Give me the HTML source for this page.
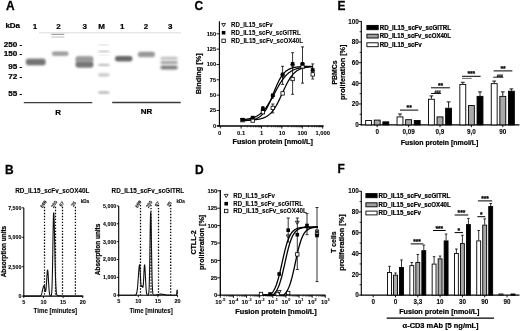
<!DOCTYPE html>
<html><head><meta charset="utf-8"><style>
html,body{margin:0;padding:0;background:#fff;width:520px;height:331px;overflow:hidden}
svg{display:block}
text{font-family:'Liberation Sans', Arial, sans-serif;font-weight:bold;stroke:#000;stroke-width:0.2px}
</style></head><body>
<svg width="520" height="331" viewBox="0 0 520 331">
<rect width="520" height="331" fill="#fff"/>
<text x="5.9" y="9.8" font-size="13.0" textLength="8.64" lengthAdjust="spacingAndGlyphs" fill="#000" style="stroke:#000;stroke-width:0.3px">A</text>
<text x="5.0" y="174.4" font-size="13.0" textLength="8.64" lengthAdjust="spacingAndGlyphs" fill="#000" style="stroke:#000;stroke-width:0.3px">B</text>
<text x="194.4" y="9.9" font-size="13.0" textLength="8.64" lengthAdjust="spacingAndGlyphs" fill="#000" style="stroke:#000;stroke-width:0.3px">C</text>
<text x="195.0" y="174.0" font-size="13.0" textLength="8.64" lengthAdjust="spacingAndGlyphs" fill="#000" style="stroke:#000;stroke-width:0.3px">D</text>
<text x="337.6" y="9.9" font-size="13.0" textLength="7.98" lengthAdjust="spacingAndGlyphs" fill="#000" style="stroke:#000;stroke-width:0.3px">E</text>
<text x="337.6" y="173.2" font-size="13.0" textLength="7.31" lengthAdjust="spacingAndGlyphs" fill="#000" style="stroke:#000;stroke-width:0.3px">F</text>
<defs><filter id="bl" x="-20%" y="-50%" width="140%" height="200%"><feGaussianBlur stdDeviation="1.0"/></filter><filter id="bl2" x="-20%" y="-50%" width="140%" height="200%"><feGaussianBlur stdDeviation="0.6"/></filter></defs>
<rect x="39.00" y="32.20" width="142.00" height="1.20" fill="#e2e2e2" filter="url(#bl2)"/>
<text x="5.4" y="27.8" font-size="8.0" fill="#000" style="stroke:#000;stroke-width:0.22px">kDa</text>
<text x="35" y="28.9" font-size="8.0" text-anchor="middle" fill="#000" style="stroke:#000;stroke-width:0.22px">1</text>
<text x="58.6" y="28.9" font-size="8.0" text-anchor="middle" fill="#000" style="stroke:#000;stroke-width:0.22px">2</text>
<text x="84.8" y="28.9" font-size="8.0" text-anchor="middle" fill="#000" style="stroke:#000;stroke-width:0.22px">3</text>
<text x="101.5" y="28.9" font-size="8.0" text-anchor="middle" fill="#000" style="stroke:#000;stroke-width:0.22px">M</text>
<text x="122.2" y="28.9" font-size="8.0" text-anchor="middle" fill="#000" style="stroke:#000;stroke-width:0.22px">1</text>
<text x="146" y="28.9" font-size="8.0" text-anchor="middle" fill="#000" style="stroke:#000;stroke-width:0.22px">2</text>
<text x="170.2" y="28.9" font-size="8.0" text-anchor="middle" fill="#000" style="stroke:#000;stroke-width:0.22px">3</text>
<text x="22.2" y="46.699999999999996" font-size="8.1" text-anchor="end" fill="#000" style="stroke:#000;stroke-width:0.22px">250 -</text>
<text x="22.2" y="56.199999999999996" font-size="8.1" text-anchor="end" fill="#000" style="stroke:#000;stroke-width:0.22px">150 -</text>
<text x="22.2" y="68.8" font-size="8.1" text-anchor="end" fill="#000" style="stroke:#000;stroke-width:0.22px">95 -</text>
<text x="22.2" y="79.3" font-size="8.1" text-anchor="end" fill="#000" style="stroke:#000;stroke-width:0.22px">72 -</text>
<text x="22.2" y="96.2" font-size="8.1" text-anchor="end" fill="#000" style="stroke:#000;stroke-width:0.22px">55 -</text>
<rect x="26.0" y="58.6" width="19.5" height="6.6" rx="2" fill="#9a9a9a" opacity="1" filter="url(#bl)"/>
<rect x="26.5" y="59.8" width="18.5" height="4.6" rx="2" fill="#707070" opacity="1" filter="url(#bl)"/>
<rect x="51.3" y="33.8" width="13" height="1.1" fill="#9a9a9a" filter="url(#bl2)"/>
<rect x="51.3" y="36.6" width="13" height="0.9" fill="#b8b8b8" filter="url(#bl2)"/>
<rect x="52.0" y="51.6" width="16.5" height="4.2" rx="2" fill="#b0b0b0" opacity="1" filter="url(#bl)"/>
<rect x="52.5" y="52.6" width="15.5" height="2.4" rx="2" fill="#9a9a9a" opacity="1" filter="url(#bl)"/>
<rect x="75.8" y="56.2" width="17.2" height="11.0" rx="2" fill="#a8a8a8" opacity="1" filter="url(#bl)"/>
<rect x="76.0" y="57.2" width="17" height="4.0" rx="2" fill="#989898" opacity="1" filter="url(#bl)"/>
<rect x="76.0" y="62.0" width="17" height="5.2" rx="2" fill="#747474" opacity="1" filter="url(#bl)"/>
<rect x="98.0" y="44.5" width="11.6" height="1.0" rx="2" fill="#c4c4c4" opacity="1" filter="url(#bl)"/>
<rect x="98.0" y="50.8" width="11.6" height="1.4" rx="2" fill="#b0b0b0" opacity="1" filter="url(#bl)"/>
<rect x="98.0" y="54.6" width="11.6" height="0.8" rx="2" fill="#e0e0e0" opacity="1" filter="url(#bl)"/>
<rect x="98.0" y="63.95" width="11.6" height="1.9" rx="2" fill="#a8a8a8" opacity="1" filter="url(#bl)"/>
<rect x="98.0" y="73.2" width="11.6" height="3.2" rx="2" fill="#c8c8c8" opacity="1" filter="url(#bl)"/>
<rect x="98.0" y="91.6" width="11.6" height="2.0" rx="2" fill="#a4a4a4" opacity="1" filter="url(#bl)"/>
<rect x="115.2" y="56.2" width="17" height="5.4" rx="2" fill="#8a8a8a" opacity="1" filter="url(#bl)"/>
<rect x="115.6" y="56.8" width="16.2" height="3.4" rx="2" fill="#606060" opacity="1" filter="url(#bl)"/>
<rect x="138.0" y="51.8" width="16.8" height="5.4" rx="2" fill="#acacac" opacity="1" filter="url(#bl)"/>
<rect x="138.5" y="52.8" width="15.8" height="3.0" rx="2" fill="#939393" opacity="1" filter="url(#bl)"/>
<rect x="160.4" y="56.8" width="17.4" height="3.0" rx="2" fill="#c0c0c0" opacity="1" filter="url(#bl)"/>
<rect x="160.4" y="61.0" width="17.4" height="3.0" rx="2" fill="#a0a0a0" opacity="1" filter="url(#bl)"/>
<rect x="160.4" y="65.6" width="17.4" height="3.8" rx="2" fill="#7e7e7e" opacity="1" filter="url(#bl)"/>
<line x1="23.8" y1="102.6" x2="92.3" y2="102.6" stroke="#3a3a3a" stroke-width="1.3"/>
<line x1="112.2" y1="102.5" x2="180.7" y2="102.5" stroke="#3a3a3a" stroke-width="1.3"/>
<text x="58.2" y="114.6" font-size="8.0" text-anchor="middle" fill="#000" style="stroke:#000;stroke-width:0.22px">R</text>
<text x="146.6" y="114.3" font-size="8.0" text-anchor="middle" fill="#000" style="stroke:#000;stroke-width:0.22px">NR</text>
<line x1="23.8" y1="207.8" x2="23.8" y2="296.6" stroke="#000" stroke-width="1.1"/>
<line x1="23.3" y1="296.1" x2="83.25" y2="296.1" stroke="#000" stroke-width="1.1"/>
<line x1="21.8" y1="296.1" x2="23.8" y2="296.1" stroke="#000" stroke-width="0.9"/>
<text x="21.400000000000002" y="298.1" font-size="5.3" text-anchor="end" fill="#000" style="stroke:#000;stroke-width:0.08px">0</text>
<line x1="21.8" y1="266.6675" x2="23.8" y2="266.6675" stroke="#000" stroke-width="0.9"/>
<text x="21.400000000000002" y="268.6675" font-size="5.3" text-anchor="end" fill="#000" style="stroke:#000;stroke-width:0.08px">2,500</text>
<line x1="21.8" y1="237.235" x2="23.8" y2="237.235" stroke="#000" stroke-width="0.9"/>
<text x="21.400000000000002" y="239.235" font-size="5.3" text-anchor="end" fill="#000" style="stroke:#000;stroke-width:0.08px">5,000</text>
<line x1="21.8" y1="207.8025" x2="23.8" y2="207.8025" stroke="#000" stroke-width="0.9"/>
<text x="21.400000000000002" y="209.8025" font-size="5.3" text-anchor="end" fill="#000" style="stroke:#000;stroke-width:0.08px">7,500</text>
<line x1="23.8" y1="296.1" x2="23.8" y2="298.1" stroke="#000" stroke-width="0.9"/>
<text x="23.8" y="303.90000000000003" font-size="5.5" text-anchor="middle" fill="#000" style="stroke:#000;stroke-width:0.08px">5</text>
<line x1="43.45" y1="296.1" x2="43.45" y2="298.1" stroke="#000" stroke-width="0.9"/>
<text x="43.45" y="303.90000000000003" font-size="5.5" text-anchor="middle" fill="#000" style="stroke:#000;stroke-width:0.08px">10</text>
<line x1="63.10000000000001" y1="296.1" x2="63.10000000000001" y2="298.1" stroke="#000" stroke-width="0.9"/>
<text x="63.10000000000001" y="303.90000000000003" font-size="5.5" text-anchor="middle" fill="#000" style="stroke:#000;stroke-width:0.08px">15</text>
<line x1="82.75" y1="296.1" x2="82.75" y2="298.1" stroke="#000" stroke-width="0.9"/>
<text x="82.75" y="303.90000000000003" font-size="5.5" text-anchor="middle" fill="#000" style="stroke:#000;stroke-width:0.08px">20</text>
<line x1="44.5" y1="206.8" x2="44.5" y2="296.1" stroke="#000" stroke-width="1.25" stroke-dasharray="1.4,1.58"/>
<line x1="55.5" y1="206.8" x2="55.5" y2="296.1" stroke="#000" stroke-width="1.25" stroke-dasharray="1.4,1.58"/>
<line x1="62.5" y1="206.8" x2="62.5" y2="296.1" stroke="#000" stroke-width="1.25" stroke-dasharray="1.4,1.58"/>
<line x1="75.4" y1="206.8" x2="75.4" y2="296.1" stroke="#000" stroke-width="1.25" stroke-dasharray="1.4,1.58"/>
<text x="44.8" y="205.0" font-size="4.6" text-anchor="middle" transform="rotate(-55 44.8 205.0)" fill="#000" style="stroke:#000;stroke-width:0.08px">669</text>
<text x="55.6" y="205.0" font-size="4.6" text-anchor="middle" transform="rotate(-55 55.6 205.0)" fill="#000" style="stroke:#000;stroke-width:0.08px">200</text>
<text x="63.0" y="205.0" font-size="4.6" text-anchor="middle" transform="rotate(-55 63.0 205.0)" fill="#000" style="stroke:#000;stroke-width:0.08px">67</text>
<text x="74.9" y="205.0" font-size="4.6" text-anchor="middle" transform="rotate(-55 74.9 205.0)" fill="#000" style="stroke:#000;stroke-width:0.08px">25</text>
<text x="80.80000000000001" y="202.8" font-size="4.5" fill="#000" style="stroke:#000;stroke-width:0.08px">kDa</text>
<text x="15.2" y="193.0" font-size="6.3" textLength="74.3" lengthAdjust="spacingAndGlyphs" fill="#000" style="stroke:#000;stroke-width:0.08px">RD_IL15_scFv_scOX40L</text>
<path d="M23.80,296.10 L23.95,296.10 L24.09,296.10 L24.24,296.10 L24.39,296.10 L24.54,296.10 L24.68,296.10 L24.83,296.10 L24.98,296.10 L25.13,296.10 L25.27,296.10 L25.42,296.10 L25.57,296.10 L25.72,296.10 L25.86,296.10 L26.01,296.10 L26.16,296.10 L26.31,296.10 L26.45,296.10 L26.60,296.10 L26.75,296.10 L26.89,296.10 L27.04,296.10 L27.19,296.10 L27.34,296.10 L27.48,296.10 L27.63,296.10 L27.78,296.10 L27.93,296.10 L28.07,296.10 L28.22,296.10 L28.37,296.10 L28.52,296.10 L28.66,296.10 L28.81,296.10 L28.96,296.10 L29.11,296.10 L29.25,296.10 L29.40,296.10 L29.55,296.10 L29.70,296.10 L29.84,296.10 L29.99,296.10 L30.14,296.10 L30.28,296.10 L30.43,296.10 L30.58,296.10 L30.73,296.10 L30.87,296.10 L31.02,296.10 L31.17,296.10 L31.32,296.10 L31.46,296.10 L31.61,296.10 L31.76,296.10 L31.91,296.10 L32.05,296.10 L32.20,296.10 L32.35,296.10 L32.50,296.10 L32.64,296.10 L32.79,296.10 L32.94,296.10 L33.08,296.10 L33.23,296.10 L33.38,296.10 L33.53,296.10 L33.67,296.10 L33.82,296.10 L33.97,296.10 L34.12,296.10 L34.26,296.10 L34.41,296.10 L34.56,296.10 L34.71,296.10 L34.85,296.10 L35.00,296.10 L35.15,296.10 L35.30,296.10 L35.44,296.10 L35.59,296.10 L35.74,296.10 L35.88,296.10 L36.03,296.10 L36.18,296.10 L36.33,296.10 L36.47,296.10 L36.62,296.10 L36.77,296.10 L36.92,296.10 L37.06,296.10 L37.21,296.10 L37.36,296.10 L37.51,296.10 L37.65,296.10 L37.80,296.10 L37.95,296.10 L38.10,296.10 L38.24,296.10 L38.39,296.10 L38.54,296.09 L38.68,296.09 L38.83,296.09 L38.98,296.08 L39.13,296.08 L39.27,296.06 L39.42,296.05 L39.57,296.03 L39.72,296.00 L39.86,295.97 L40.01,295.92 L40.16,295.86 L40.31,295.78 L40.45,295.68 L40.60,295.56 L40.75,295.41 L40.90,295.22 L41.04,295.00 L41.19,294.74 L41.34,294.43 L41.48,294.07 L41.63,293.66 L41.78,293.21 L41.93,292.70 L42.07,292.15 L42.22,291.56 L42.37,290.94 L42.52,290.30 L42.66,289.64 L42.81,288.99 L42.96,288.36 L43.11,287.77 L43.25,287.22 L43.40,286.74 L43.55,286.34 L43.70,286.04 L43.84,285.83 L43.99,285.73 L44.14,285.78 L44.29,286.10 L44.43,286.67 L44.58,287.43 L44.73,288.31 L44.87,289.22 L45.02,290.07 L45.17,290.78 L45.32,291.28 L45.46,291.50 L45.61,291.38 L45.76,290.90 L45.91,290.04 L46.05,288.78 L46.20,287.16 L46.35,285.21 L46.50,283.00 L46.64,280.63 L46.79,278.21 L46.94,275.88 L47.09,273.77 L47.23,272.02 L47.38,270.76 L47.53,270.08 L47.67,270.02 L47.82,270.70 L47.97,272.06 L48.12,274.00 L48.26,276.37 L48.41,278.99 L48.56,281.68 L48.71,284.30 L48.85,286.72 L49.00,288.86 L49.15,290.67 L49.30,292.14 L49.44,293.30 L49.59,294.17 L49.74,294.81 L49.89,295.26 L50.03,295.57 L50.18,295.77 L50.33,295.90 L50.47,295.97 L50.62,295.99 L50.77,295.97 L50.92,295.89 L51.06,295.74 L51.21,295.46 L51.36,294.97 L51.51,294.19 L51.65,292.96 L51.80,291.11 L51.95,288.46 L52.10,284.79 L52.24,279.94 L52.39,273.80 L52.54,266.39 L52.69,257.89 L52.83,248.64 L52.98,239.19 L53.13,230.21 L53.28,222.45 L53.42,216.61 L53.57,213.28 L53.72,212.70 L53.86,214.01 L54.01,216.84 L54.16,221.03 L54.31,226.35 L54.45,232.52 L54.60,239.24 L54.75,246.21 L54.90,253.15 L55.04,259.81 L55.19,266.00 L55.34,271.60 L55.49,276.50 L55.63,280.70 L55.78,284.20 L55.93,287.04 L56.08,289.30 L56.22,291.05 L56.37,292.38 L56.52,293.37 L56.66,294.08 L56.81,294.60 L56.96,294.95 L57.11,295.19 L57.25,295.36 L57.40,295.47 L57.55,295.54 L57.70,295.59 L57.84,295.62 L57.99,295.64 L58.14,295.66 L58.29,295.67 L58.43,295.68 L58.58,295.70 L58.73,295.71 L58.88,295.72 L59.02,295.73 L59.17,295.74 L59.32,295.76 L59.46,295.77 L59.61,295.78 L59.76,295.80 L59.91,295.81 L60.05,295.82 L60.20,295.84 L60.35,295.85 L60.50,295.86 L60.64,295.88 L60.79,295.89 L60.94,295.90 L61.09,295.91 L61.23,295.92 L61.38,295.94 L61.53,295.95 L61.68,295.96 L61.82,295.97 L61.97,295.98 L62.12,295.99 L62.26,296.00 L62.41,296.00 L62.56,296.01 L62.71,296.02 L62.85,296.03 L63.00,296.03 L63.15,296.04 L63.30,296.04 L63.44,296.05 L63.59,296.05 L63.74,296.06 L63.89,296.06 L64.03,296.07 L64.18,296.07 L64.33,296.07 L64.48,296.08 L64.62,296.08 L64.77,296.08 L64.92,296.08 L65.06,296.08 L65.21,296.09 L65.36,296.09 L65.51,296.09 L65.65,296.09 L65.80,296.09 L65.95,296.09 L66.10,296.09 L66.24,296.09 L66.39,296.10 L66.54,296.10 L66.69,296.10 L66.83,296.10 L66.98,296.10 L67.13,296.10 L67.28,296.10 L67.42,296.10 L67.57,296.10 L67.72,296.10 L67.87,296.10 L68.01,296.10 L68.16,296.10 L68.31,296.10 L68.45,296.10 L68.60,296.10 L68.75,296.10 L68.90,296.10 L69.04,296.10 L69.19,296.10 L69.34,296.10 L69.49,296.10 L69.63,296.10 L69.78,296.10 L69.93,296.10 L70.08,296.10 L70.22,296.10 L70.37,296.10 L70.52,296.10 L70.67,296.10 L70.81,296.10 L70.96,296.10 L71.11,296.10 L71.25,296.10 L71.40,296.10 L71.55,296.10 L71.70,296.10 L71.84,296.10 L71.99,296.10 L72.14,296.10 L72.29,296.10 L72.43,296.10 L72.58,296.10 L72.73,296.10 L72.88,296.10 L73.02,296.10 L73.17,296.10 L73.32,296.10 L73.47,296.10 L73.61,296.10 L73.76,296.10 L73.91,296.10 L74.05,296.10 L74.20,296.10 L74.35,296.10 L74.50,296.10 L74.64,296.10 L74.79,296.10 L74.94,296.10 L75.09,296.10 L75.23,296.10 L75.38,296.10 L75.53,296.10 L75.68,296.10 L75.82,296.10 L75.97,296.10 L76.12,296.10 L76.27,296.10 L76.41,296.10 L76.56,296.10 L76.71,296.10 L76.86,296.10 L77.00,296.10 L77.15,296.10 L77.30,296.10 L77.44,296.10 L77.59,296.10 L77.74,296.10 L77.89,296.10 L78.03,296.10 L78.18,296.10 L78.33,296.10 L78.48,296.10 L78.62,296.10 L78.77,296.10 L78.92,296.10 L79.07,296.10 L79.21,296.10 L79.36,296.10 L79.51,296.10 L79.66,296.10 L79.80,296.10 L79.95,296.10 L80.10,296.10 L80.24,296.10 L80.39,296.10 L80.54,296.10 L80.69,296.10 L80.83,296.10 L80.98,296.10 L81.13,296.10 L81.28,296.10 L81.42,296.10 L81.57,296.10 L81.72,296.10 L81.87,296.10 L82.01,296.10 L82.16,296.10 L82.31,296.10 L82.46,296.10 L82.60,296.10 L82.75,296.10" stroke="#111" stroke-width="1.1" fill="none" stroke-linejoin="round"/>
<text x="6.3" y="251.6" font-size="6.8" text-anchor="middle" textLength="51.5" lengthAdjust="spacingAndGlyphs" transform="rotate(-90 6.3 251.6)" fill="#000" style="stroke:#000;stroke-width:0.22px">Absorption units</text>
<text x="33.6" y="312.6" font-size="6.3" textLength="43.5" lengthAdjust="spacingAndGlyphs" fill="#000" style="stroke:#000;stroke-width:0.08px">Time [minutes]</text>
<line x1="118.7" y1="205.9" x2="118.7" y2="295.7" stroke="#000" stroke-width="1.1"/>
<line x1="118.2" y1="295.2" x2="178.0" y2="295.2" stroke="#000" stroke-width="1.1"/>
<line x1="116.7" y1="295.2" x2="118.7" y2="295.2" stroke="#000" stroke-width="0.9"/>
<text x="116.3" y="297.2" font-size="5.3" text-anchor="end" fill="#000" style="stroke:#000;stroke-width:0.08px">0</text>
<line x1="116.7" y1="277.34" x2="118.7" y2="277.34" stroke="#000" stroke-width="0.9"/>
<text x="116.3" y="279.34" font-size="5.3" text-anchor="end" fill="#000" style="stroke:#000;stroke-width:0.08px">1,000</text>
<line x1="116.7" y1="259.48" x2="118.7" y2="259.48" stroke="#000" stroke-width="0.9"/>
<text x="116.3" y="261.48" font-size="5.3" text-anchor="end" fill="#000" style="stroke:#000;stroke-width:0.08px">2,000</text>
<line x1="116.7" y1="241.61999999999998" x2="118.7" y2="241.61999999999998" stroke="#000" stroke-width="0.9"/>
<text x="116.3" y="243.61999999999998" font-size="5.3" text-anchor="end" fill="#000" style="stroke:#000;stroke-width:0.08px">3,000</text>
<line x1="116.7" y1="223.76" x2="118.7" y2="223.76" stroke="#000" stroke-width="0.9"/>
<text x="116.3" y="225.76" font-size="5.3" text-anchor="end" fill="#000" style="stroke:#000;stroke-width:0.08px">4,000</text>
<line x1="116.7" y1="205.89999999999998" x2="118.7" y2="205.89999999999998" stroke="#000" stroke-width="0.9"/>
<text x="116.3" y="207.89999999999998" font-size="5.3" text-anchor="end" fill="#000" style="stroke:#000;stroke-width:0.08px">5,000</text>
<line x1="118.7" y1="295.2" x2="118.7" y2="297.2" stroke="#000" stroke-width="0.9"/>
<text x="118.7" y="303.0" font-size="5.5" text-anchor="middle" fill="#000" style="stroke:#000;stroke-width:0.08px">5</text>
<line x1="138.3" y1="295.2" x2="138.3" y2="297.2" stroke="#000" stroke-width="0.9"/>
<text x="138.3" y="303.0" font-size="5.5" text-anchor="middle" fill="#000" style="stroke:#000;stroke-width:0.08px">10</text>
<line x1="157.9" y1="295.2" x2="157.9" y2="297.2" stroke="#000" stroke-width="0.9"/>
<text x="157.9" y="303.0" font-size="5.5" text-anchor="middle" fill="#000" style="stroke:#000;stroke-width:0.08px">15</text>
<line x1="177.5" y1="295.2" x2="177.5" y2="297.2" stroke="#000" stroke-width="0.9"/>
<text x="177.5" y="303.0" font-size="5.5" text-anchor="middle" fill="#000" style="stroke:#000;stroke-width:0.08px">20</text>
<line x1="140.5" y1="204.9" x2="140.5" y2="295.2" stroke="#000" stroke-width="1.25" stroke-dasharray="1.4,1.58"/>
<line x1="151.0" y1="204.9" x2="151.0" y2="295.2" stroke="#000" stroke-width="1.25" stroke-dasharray="1.4,1.58"/>
<line x1="158.5" y1="204.9" x2="158.5" y2="295.2" stroke="#000" stroke-width="1.25" stroke-dasharray="1.4,1.58"/>
<line x1="170.7" y1="204.9" x2="170.7" y2="295.2" stroke="#000" stroke-width="1.25" stroke-dasharray="1.4,1.58"/>
<text x="139.6" y="205.0" font-size="4.6" text-anchor="middle" transform="rotate(-55 139.6 205.0)" fill="#000" style="stroke:#000;stroke-width:0.08px">669</text>
<text x="150.6" y="205.0" font-size="4.6" text-anchor="middle" transform="rotate(-55 150.6 205.0)" fill="#000" style="stroke:#000;stroke-width:0.08px">200</text>
<text x="158.4" y="205.0" font-size="4.6" text-anchor="middle" transform="rotate(-55 158.4 205.0)" fill="#000" style="stroke:#000;stroke-width:0.08px">67</text>
<text x="170.6" y="205.0" font-size="4.6" text-anchor="middle" transform="rotate(-55 170.6 205.0)" fill="#000" style="stroke:#000;stroke-width:0.08px">25</text>
<text x="176.5" y="202.8" font-size="4.5" fill="#000" style="stroke:#000;stroke-width:0.08px">kDa</text>
<text x="111.6" y="192.5" font-size="6.3" textLength="72.6" lengthAdjust="spacingAndGlyphs" fill="#000" style="stroke:#000;stroke-width:0.08px">RD_IL15_scFv_scGITRL</text>
<path d="M118.70,295.20 L118.85,295.20 L118.99,295.20 L119.14,295.20 L119.29,295.20 L119.44,295.20 L119.58,295.20 L119.73,295.20 L119.88,295.20 L120.02,295.20 L120.17,295.20 L120.32,295.20 L120.46,295.20 L120.61,295.20 L120.76,295.20 L120.91,295.20 L121.05,295.20 L121.20,295.20 L121.35,295.20 L121.49,295.20 L121.64,295.20 L121.79,295.20 L121.93,295.20 L122.08,295.20 L122.23,295.20 L122.38,295.20 L122.52,295.20 L122.67,295.20 L122.82,295.20 L122.96,295.20 L123.11,295.20 L123.26,295.20 L123.40,295.20 L123.55,295.20 L123.70,295.20 L123.84,295.20 L123.99,295.20 L124.14,295.20 L124.29,295.20 L124.43,295.20 L124.58,295.20 L124.73,295.20 L124.87,295.20 L125.02,295.20 L125.17,295.20 L125.31,295.20 L125.46,295.20 L125.61,295.20 L125.76,295.20 L125.90,295.20 L126.05,295.20 L126.20,295.20 L126.34,295.20 L126.49,295.20 L126.64,295.20 L126.78,295.20 L126.93,295.20 L127.08,295.20 L127.23,295.20 L127.37,295.20 L127.52,295.20 L127.67,295.20 L127.81,295.20 L127.96,295.20 L128.11,295.20 L128.25,295.20 L128.40,295.20 L128.55,295.20 L128.70,295.20 L128.84,295.20 L128.99,295.20 L129.14,295.20 L129.28,295.20 L129.43,295.20 L129.58,295.20 L129.72,295.20 L129.87,295.20 L130.02,295.20 L130.17,295.20 L130.31,295.20 L130.46,295.20 L130.61,295.20 L130.75,295.20 L130.90,295.20 L131.05,295.20 L131.19,295.20 L131.34,295.20 L131.49,295.20 L131.64,295.20 L131.78,295.20 L131.93,295.20 L132.08,295.20 L132.22,295.20 L132.37,295.20 L132.52,295.20 L132.66,295.20 L132.81,295.20 L132.96,295.20 L133.11,295.20 L133.25,295.20 L133.40,295.20 L133.55,295.20 L133.69,295.20 L133.84,295.20 L133.99,295.20 L134.13,295.20 L134.28,295.20 L134.43,295.19 L134.58,295.19 L134.72,295.18 L134.87,295.17 L135.02,295.16 L135.16,295.14 L135.31,295.11 L135.46,295.07 L135.61,295.01 L135.75,294.92 L135.90,294.80 L136.05,294.64 L136.19,294.43 L136.34,294.15 L136.49,293.79 L136.63,293.32 L136.78,292.74 L136.93,292.02 L137.07,291.15 L137.22,290.12 L137.37,288.90 L137.52,287.50 L137.66,285.91 L137.81,284.15 L137.96,282.24 L138.10,280.20 L138.25,278.08 L138.40,275.92 L138.55,273.79 L138.69,271.75 L138.84,269.86 L138.99,268.19 L139.13,266.81 L139.28,265.75 L139.43,265.07 L139.57,264.77 L139.72,265.12 L139.87,266.44 L140.02,268.59 L140.16,271.32 L140.31,274.36 L140.46,277.41 L140.60,280.22 L140.75,282.58 L140.90,284.40 L141.04,285.63 L141.19,286.31 L141.34,286.55 L141.49,286.48 L141.63,286.26 L141.78,286.02 L141.93,285.87 L142.07,285.89 L142.22,286.10 L142.37,286.45 L142.51,286.86 L142.66,287.21 L142.81,287.36 L142.96,287.17 L143.10,286.49 L143.25,285.25 L143.40,283.41 L143.54,281.00 L143.69,278.14 L143.84,275.02 L143.98,271.89 L144.13,269.04 L144.28,266.76 L144.43,265.28 L144.57,264.79 L144.72,265.25 L144.87,266.54 L145.01,268.55 L145.16,271.13 L145.31,274.08 L145.45,277.20 L145.60,280.30 L145.75,283.22 L145.90,285.84 L146.04,288.10 L146.19,289.96 L146.34,291.45 L146.48,292.59 L146.63,293.44 L146.78,294.04 L146.92,294.46 L147.07,294.74 L147.22,294.93 L147.37,295.04 L147.51,295.11 L147.66,295.14 L147.81,295.15 L147.95,295.14 L148.10,295.09 L148.25,294.99 L148.39,294.78 L148.54,294.39 L148.69,293.70 L148.84,292.56 L148.98,290.73 L149.13,287.96 L149.28,283.98 L149.42,278.55 L149.57,271.54 L149.72,263.00 L149.86,253.24 L150.01,242.84 L150.16,232.64 L150.31,223.63 L150.45,216.80 L150.60,212.97 L150.75,212.56 L150.89,215.13 L151.04,220.30 L151.19,227.56 L151.33,236.22 L151.48,245.55 L151.63,254.85 L151.78,263.54 L151.92,271.21 L152.07,277.65 L152.22,282.80 L152.36,286.74 L152.51,289.62 L152.66,291.64 L152.80,293.00 L152.95,293.88 L153.10,294.42 L153.25,294.75 L153.39,294.93 L153.54,295.03 L153.69,295.08 L153.83,295.10 L153.98,295.10 L154.13,295.10 L154.27,295.09 L154.42,295.08 L154.57,295.07 L154.72,295.06 L154.86,295.05 L155.01,295.03 L155.16,295.02 L155.30,295.00 L155.45,294.98 L155.60,294.96 L155.74,294.94 L155.89,294.92 L156.04,294.90 L156.19,294.88 L156.33,294.85 L156.48,294.83 L156.63,294.80 L156.77,294.77 L156.92,294.75 L157.07,294.72 L157.21,294.69 L157.36,294.66 L157.51,294.63 L157.66,294.60 L157.80,294.57 L157.95,294.54 L158.10,294.51 L158.24,294.48 L158.39,294.45 L158.54,294.42 L158.68,294.39 L158.83,294.36 L158.98,294.34 L159.12,294.31 L159.27,294.29 L159.42,294.26 L159.57,294.24 L159.71,294.22 L159.86,294.20 L160.01,294.18 L160.15,294.17 L160.30,294.16 L160.45,294.15 L160.59,294.14 L160.74,294.13 L160.89,294.13 L161.04,294.13 L161.18,294.13 L161.33,294.13 L161.48,294.14 L161.62,294.15 L161.77,294.16 L161.92,294.17 L162.06,294.18 L162.21,294.20 L162.36,294.22 L162.51,294.24 L162.65,294.26 L162.80,294.29 L162.95,294.31 L163.09,294.34 L163.24,294.36 L163.39,294.39 L163.53,294.42 L163.68,294.45 L163.83,294.48 L163.98,294.51 L164.12,294.54 L164.27,294.57 L164.42,294.60 L164.56,294.63 L164.71,294.66 L164.86,294.69 L165.00,294.72 L165.15,294.75 L165.30,294.77 L165.45,294.80 L165.59,294.83 L165.74,294.85 L165.89,294.88 L166.03,294.90 L166.18,294.92 L166.33,294.94 L166.47,294.96 L166.62,294.98 L166.77,295.00 L166.92,295.02 L167.06,295.03 L167.21,295.05 L167.36,295.06 L167.50,295.07 L167.65,295.08 L167.80,295.10 L167.94,295.11 L168.09,295.11 L168.24,295.12 L168.39,295.13 L168.53,295.14 L168.68,295.15 L168.83,295.15 L168.97,295.16 L169.12,295.16 L169.27,295.17 L169.41,295.17 L169.56,295.17 L169.71,295.18 L169.86,295.18 L170.00,295.18 L170.15,295.18 L170.30,295.19 L170.44,295.19 L170.59,295.19 L170.74,295.19 L170.88,295.19 L171.03,295.19 L171.18,295.19 L171.33,295.20 L171.47,295.20 L171.62,295.20 L171.77,295.20 L171.91,295.20 L172.06,295.20 L172.21,295.20 L172.36,295.20 L172.50,295.20 L172.65,295.20 L172.80,295.20 L172.94,295.20 L173.09,295.20 L173.24,295.20 L173.38,295.20 L173.53,295.20 L173.68,295.20 L173.82,295.20 L173.97,295.20 L174.12,295.20 L174.27,295.20 L174.41,295.20 L174.56,295.20 L174.71,295.20 L174.85,295.20 L175.00,295.20 L175.15,295.20 L175.30,295.20 L175.44,295.20 L175.59,295.20 L175.74,295.20 L175.88,295.20 L176.03,295.20 L176.18,295.20 L176.32,295.18 L176.47,295.06 L176.62,294.59 L176.76,293.35 L176.91,291.41 L177.06,289.96 L177.21,290.29 L177.35,292.09 L177.50,293.86" stroke="#111" stroke-width="1.1" fill="none" stroke-linejoin="round"/>
<text x="100.4" y="249.4" font-size="6.8" text-anchor="middle" textLength="51.5" lengthAdjust="spacingAndGlyphs" transform="rotate(-90 100.4 249.4)" fill="#000" style="stroke:#000;stroke-width:0.22px">Absorption units</text>
<text x="129.4" y="312.6" font-size="6.3" textLength="43.3" lengthAdjust="spacingAndGlyphs" fill="#000" style="stroke:#000;stroke-width:0.08px">Time [minutes]</text>
<line x1="219.4" y1="21.2" x2="219.4" y2="126.3" stroke="#000" stroke-width="1.1"/>
<line x1="217.2" y1="126.0" x2="323.6" y2="126.0" stroke="#000" stroke-width="1.4"/>
<line x1="216.6" y1="125.8" x2="219.4" y2="125.8" stroke="#000" stroke-width="0.9"/>
<text x="216.2" y="127.8" font-size="5.7" text-anchor="end" fill="#000" style="stroke:#000;stroke-width:0.08px">0</text>
<line x1="216.6" y1="110.4675" x2="219.4" y2="110.4675" stroke="#000" stroke-width="0.9"/>
<text x="216.2" y="112.4675" font-size="5.7" text-anchor="end" fill="#000" style="stroke:#000;stroke-width:0.08px">25</text>
<line x1="216.6" y1="95.13499999999999" x2="219.4" y2="95.13499999999999" stroke="#000" stroke-width="0.9"/>
<text x="216.2" y="97.13499999999999" font-size="5.7" text-anchor="end" fill="#000" style="stroke:#000;stroke-width:0.08px">50</text>
<line x1="216.6" y1="79.80250000000001" x2="219.4" y2="79.80250000000001" stroke="#000" stroke-width="0.9"/>
<text x="216.2" y="81.80250000000001" font-size="5.7" text-anchor="end" fill="#000" style="stroke:#000;stroke-width:0.08px">75</text>
<line x1="216.6" y1="64.47" x2="219.4" y2="64.47" stroke="#000" stroke-width="0.9"/>
<text x="216.2" y="66.47" font-size="5.7" text-anchor="end" fill="#000" style="stroke:#000;stroke-width:0.08px">100</text>
<line x1="216.6" y1="49.1375" x2="219.4" y2="49.1375" stroke="#000" stroke-width="0.9"/>
<text x="216.2" y="51.1375" font-size="5.7" text-anchor="end" fill="#000" style="stroke:#000;stroke-width:0.08px">125</text>
<line x1="216.6" y1="33.80500000000001" x2="219.4" y2="33.80500000000001" stroke="#000" stroke-width="0.9"/>
<text x="216.2" y="35.80500000000001" font-size="5.7" text-anchor="end" fill="#000" style="stroke:#000;stroke-width:0.08px">150</text>
<line x1="220.3" y1="125.8" x2="220.3" y2="128.3" stroke="#000" stroke-width="0.9"/>
<text x="219.6" y="134.6" font-size="5.8" text-anchor="middle" fill="#000" style="stroke:#000;stroke-width:0.08px">0</text>
<line x1="241.1" y1="125.8" x2="241.1" y2="128.6" stroke="#000" stroke-width="0.9"/>
<line x1="261.5" y1="125.8" x2="261.5" y2="128.6" stroke="#000" stroke-width="0.9"/>
<line x1="281.9" y1="125.8" x2="281.9" y2="128.6" stroke="#000" stroke-width="0.9"/>
<line x1="302.3" y1="125.8" x2="302.3" y2="128.6" stroke="#000" stroke-width="0.9"/>
<line x1="322.7" y1="125.8" x2="322.7" y2="128.6" stroke="#000" stroke-width="0.9"/>
<line x1="247.24101191154523" y1="125.8" x2="247.24101191154523" y2="127.4" stroke="#000" stroke-width="0.6"/>
<line x1="250.83327359628112" y1="125.8" x2="250.83327359628112" y2="127.4" stroke="#000" stroke-width="0.6"/>
<line x1="253.38202382309044" y1="125.8" x2="253.38202382309044" y2="127.4" stroke="#000" stroke-width="0.6"/>
<line x1="255.3589880884548" y1="125.8" x2="255.3589880884548" y2="127.4" stroke="#000" stroke-width="0.6"/>
<line x1="256.9742855078263" y1="125.8" x2="256.9742855078263" y2="127.4" stroke="#000" stroke-width="0.6"/>
<line x1="258.34000001629084" y1="125.8" x2="258.34000001629084" y2="127.4" stroke="#000" stroke-width="0.6"/>
<line x1="259.52303573463564" y1="125.8" x2="259.52303573463564" y2="127.4" stroke="#000" stroke-width="0.6"/>
<line x1="260.5665471925622" y1="125.8" x2="260.5665471925622" y2="127.4" stroke="#000" stroke-width="0.6"/>
<line x1="267.6410119115452" y1="125.8" x2="267.6410119115452" y2="127.4" stroke="#000" stroke-width="0.6"/>
<line x1="271.2332735962811" y1="125.8" x2="271.2332735962811" y2="127.4" stroke="#000" stroke-width="0.6"/>
<line x1="273.7820238230904" y1="125.8" x2="273.7820238230904" y2="127.4" stroke="#000" stroke-width="0.6"/>
<line x1="275.75898808845477" y1="125.8" x2="275.75898808845477" y2="127.4" stroke="#000" stroke-width="0.6"/>
<line x1="277.37428550782636" y1="125.8" x2="277.37428550782636" y2="127.4" stroke="#000" stroke-width="0.6"/>
<line x1="278.7400000162908" y1="125.8" x2="278.7400000162908" y2="127.4" stroke="#000" stroke-width="0.6"/>
<line x1="279.9230357346356" y1="125.8" x2="279.9230357346356" y2="127.4" stroke="#000" stroke-width="0.6"/>
<line x1="280.96654719256225" y1="125.8" x2="280.96654719256225" y2="127.4" stroke="#000" stroke-width="0.6"/>
<line x1="288.04101191154524" y1="125.8" x2="288.04101191154524" y2="127.4" stroke="#000" stroke-width="0.6"/>
<line x1="291.63327359628113" y1="125.8" x2="291.63327359628113" y2="127.4" stroke="#000" stroke-width="0.6"/>
<line x1="294.18202382309045" y1="125.8" x2="294.18202382309045" y2="127.4" stroke="#000" stroke-width="0.6"/>
<line x1="296.15898808845475" y1="125.8" x2="296.15898808845475" y2="127.4" stroke="#000" stroke-width="0.6"/>
<line x1="297.77428550782633" y1="125.8" x2="297.77428550782633" y2="127.4" stroke="#000" stroke-width="0.6"/>
<line x1="299.14000001629086" y1="125.8" x2="299.14000001629086" y2="127.4" stroke="#000" stroke-width="0.6"/>
<line x1="300.32303573463565" y1="125.8" x2="300.32303573463565" y2="127.4" stroke="#000" stroke-width="0.6"/>
<line x1="301.3665471925622" y1="125.8" x2="301.3665471925622" y2="127.4" stroke="#000" stroke-width="0.6"/>
<line x1="308.4410119115452" y1="125.8" x2="308.4410119115452" y2="127.4" stroke="#000" stroke-width="0.6"/>
<line x1="312.0332735962811" y1="125.8" x2="312.0332735962811" y2="127.4" stroke="#000" stroke-width="0.6"/>
<line x1="314.5820238230904" y1="125.8" x2="314.5820238230904" y2="127.4" stroke="#000" stroke-width="0.6"/>
<line x1="316.5589880884548" y1="125.8" x2="316.5589880884548" y2="127.4" stroke="#000" stroke-width="0.6"/>
<line x1="318.1742855078263" y1="125.8" x2="318.1742855078263" y2="127.4" stroke="#000" stroke-width="0.6"/>
<line x1="319.54000001629083" y1="125.8" x2="319.54000001629083" y2="127.4" stroke="#000" stroke-width="0.6"/>
<line x1="320.72303573463563" y1="125.8" x2="320.72303573463563" y2="127.4" stroke="#000" stroke-width="0.6"/>
<line x1="321.7665471925622" y1="125.8" x2="321.7665471925622" y2="127.4" stroke="#000" stroke-width="0.6"/>
<text x="241.1" y="134.6" font-size="5.8" text-anchor="middle" fill="#000" style="stroke:#000;stroke-width:0.08px">0.1</text>
<text x="261.5" y="134.6" font-size="5.8" text-anchor="middle" fill="#000" style="stroke:#000;stroke-width:0.08px">1</text>
<text x="281.9" y="134.6" font-size="5.8" text-anchor="middle" fill="#000" style="stroke:#000;stroke-width:0.08px">10</text>
<text x="302.3" y="134.6" font-size="5.8" text-anchor="middle" fill="#000" style="stroke:#000;stroke-width:0.08px">100</text>
<text x="322.7" y="134.6" font-size="5.8" text-anchor="middle" fill="#000" style="stroke:#000;stroke-width:0.08px">1,000</text>
<text x="232.6" y="143.8" font-size="7.4" textLength="80.2" lengthAdjust="spacingAndGlyphs" fill="#000" style="stroke:#000;stroke-width:0.22px">Fusion protein [nmol/L]</text>
<text x="200.6" y="73.75" font-size="7.2" text-anchor="middle" textLength="41.0" lengthAdjust="spacingAndGlyphs" transform="rotate(-90 200.6 73.75)" fill="#000" style="stroke:#000;stroke-width:0.22px">Binding [%]</text>
<path d="M221.7,23.48 L225.5,23.48 L223.6,26.71 Z" stroke="#000" stroke-width="0.8" fill="none"/>
<rect x="221.80" y="30.90" width="3.60" height="3.60" fill="#000"/>
<rect x="221.90" y="39.10" width="3.40" height="3.40" fill="#fff" stroke="#000" stroke-width="0.8"/>
<text x="231.1" y="27.0" font-size="6.5" textLength="41.6" lengthAdjust="spacingAndGlyphs" fill="#000" style="stroke:#000;stroke-width:0.08px">RD_IL15_scFv</text>
<text x="231.1" y="34.7" font-size="6.5" textLength="69.6" lengthAdjust="spacingAndGlyphs" fill="#000" style="stroke:#000;stroke-width:0.08px">RD_IL15_scFv_scGITRL</text>
<text x="231.1" y="42.6" font-size="6.5" textLength="71.9" lengthAdjust="spacingAndGlyphs" fill="#000" style="stroke:#000;stroke-width:0.08px">RD_IL15_scFv_scOX40L</text>
<line x1="272.8" y1="104" x2="272.8" y2="112.9" stroke="#000" stroke-width="0.8"/>
<line x1="271.3" y1="104" x2="274.3" y2="104" stroke="#000" stroke-width="0.8"/>
<line x1="271.3" y1="112.9" x2="274.3" y2="112.9" stroke="#000" stroke-width="0.8"/>
<line x1="282.6" y1="66.3" x2="282.6" y2="84.4" stroke="#000" stroke-width="0.8"/>
<line x1="281.1" y1="66.3" x2="284.1" y2="66.3" stroke="#000" stroke-width="0.8"/>
<line x1="281.1" y1="84.4" x2="284.1" y2="84.4" stroke="#000" stroke-width="0.8"/>
<line x1="292.6" y1="52.7" x2="292.6" y2="94.3" stroke="#000" stroke-width="0.8"/>
<line x1="291.1" y1="52.7" x2="294.1" y2="52.7" stroke="#000" stroke-width="0.8"/>
<line x1="291.1" y1="94.3" x2="294.1" y2="94.3" stroke="#000" stroke-width="0.8"/>
<line x1="302.5" y1="46.9" x2="302.5" y2="83.1" stroke="#000" stroke-width="0.8"/>
<line x1="301.0" y1="46.9" x2="304.0" y2="46.9" stroke="#000" stroke-width="0.8"/>
<line x1="301.0" y1="83.1" x2="304.0" y2="83.1" stroke="#000" stroke-width="0.8"/>
<line x1="312.7" y1="63.9" x2="312.7" y2="79.0" stroke="#000" stroke-width="0.8"/>
<line x1="311.2" y1="63.9" x2="314.2" y2="63.9" stroke="#000" stroke-width="0.8"/>
<line x1="311.2" y1="79.0" x2="314.2" y2="79.0" stroke="#000" stroke-width="0.8"/>
<line x1="262.9" y1="106.5" x2="262.9" y2="113.5" stroke="#000" stroke-width="0.8"/>
<line x1="261.4" y1="106.5" x2="264.4" y2="106.5" stroke="#000" stroke-width="0.8"/>
<line x1="261.4" y1="113.5" x2="264.4" y2="113.5" stroke="#000" stroke-width="0.8"/>
<path d="M241.50,120.73 L242.10,120.71 L242.69,120.69 L243.29,120.67 L243.88,120.64 L244.48,120.62 L245.07,120.58 L245.67,120.55 L246.27,120.51 L246.86,120.47 L247.46,120.42 L248.05,120.36 L248.65,120.30 L249.25,120.23 L249.84,120.16 L250.44,120.08 L251.03,119.98 L251.63,119.88 L252.22,119.77 L252.82,119.64 L253.42,119.50 L254.01,119.34 L254.61,119.17 L255.20,118.98 L255.80,118.77 L256.40,118.53 L256.99,118.27 L257.59,117.99 L258.18,117.67 L258.78,117.33 L259.38,116.95 L259.97,116.53 L260.57,116.07 L261.16,115.57 L261.76,115.02 L262.35,114.43 L262.95,113.78 L263.55,113.08 L264.14,112.32 L264.74,111.51 L265.33,110.63 L265.93,109.69 L266.52,108.69 L267.12,107.62 L267.72,106.50 L268.31,105.32 L268.91,104.07 L269.50,102.78 L270.10,101.44 L270.70,100.06 L271.29,98.63 L271.89,97.19 L272.48,95.72 L273.08,94.23 L273.68,92.75 L274.27,91.26 L274.87,89.80 L275.46,88.35 L276.06,86.94 L276.65,85.56 L277.25,84.22 L277.85,82.94 L278.44,81.71 L279.04,80.53 L279.63,79.41 L280.23,78.36 L280.82,77.37 L281.42,76.44 L282.02,75.57 L282.61,74.76 L283.21,74.01 L283.80,73.32 L284.40,72.68 L285.00,72.09 L285.59,71.55 L286.19,71.06 L286.78,70.61 L287.38,70.20 L287.98,69.82 L288.57,69.48 L289.17,69.17 L289.76,68.89 L290.36,68.63 L290.95,68.40 L291.55,68.19 L292.15,68.01 L292.74,67.84 L293.34,67.68 L293.93,67.54 L294.53,67.42 L295.12,67.31 L295.72,67.21 L296.32,67.11 L296.91,67.03 L297.51,66.96 L298.10,66.89 L298.70,66.83 L299.30,66.78 L299.89,66.73 L300.49,66.69 L301.08,66.65 L301.68,66.61 L302.27,66.58 L302.87,66.56 L303.47,66.53 L304.06,66.51 L304.66,66.49 L305.25,66.47 L305.85,66.45 L306.45,66.44 L307.04,66.42 L307.64,66.41 L308.23,66.40 L308.83,66.39 L309.43,66.38 L310.02,66.38 L310.62,66.37 L311.21,66.36 L311.81,66.36 L312.40,66.35 L313.00,66.35" stroke="#000" stroke-width="1.25" fill="none"/>
<path d="M241.50,119.74 L242.10,119.69 L242.69,119.64 L243.29,119.59 L243.88,119.53 L244.48,119.46 L245.07,119.39 L245.67,119.32 L246.27,119.24 L246.86,119.15 L247.46,119.05 L248.05,118.95 L248.65,118.84 L249.25,118.72 L249.84,118.59 L250.44,118.45 L251.03,118.30 L251.63,118.13 L252.22,117.95 L252.82,117.76 L253.42,117.56 L254.01,117.33 L254.61,117.10 L255.20,116.84 L255.80,116.56 L256.40,116.27 L256.99,115.95 L257.59,115.61 L258.18,115.24 L258.78,114.85 L259.38,114.43 L259.97,113.99 L260.57,113.51 L261.16,113.01 L261.76,112.47 L262.35,111.90 L262.95,111.30 L263.55,110.66 L264.14,109.99 L264.74,109.28 L265.33,108.54 L265.93,107.77 L266.52,106.95 L267.12,106.10 L267.72,105.22 L268.31,104.31 L268.91,103.36 L269.50,102.39 L270.10,101.39 L270.70,100.36 L271.29,99.31 L271.89,98.24 L272.48,97.15 L273.08,96.05 L273.68,94.94 L274.27,93.83 L274.87,92.71 L275.46,91.60 L276.06,90.49 L276.65,89.39 L277.25,88.31 L277.85,87.24 L278.44,86.19 L279.04,85.16 L279.63,84.16 L280.23,83.19 L280.82,82.24 L281.42,81.33 L282.02,80.45 L282.61,79.60 L283.21,78.79 L283.80,78.01 L284.40,77.27 L285.00,76.57 L285.59,75.90 L286.19,75.26 L286.78,74.66 L287.38,74.10 L287.98,73.56 L288.57,73.06 L289.17,72.58 L289.76,72.14 L290.36,71.72 L290.95,71.33 L291.55,70.97 L292.15,70.63 L292.74,70.31 L293.34,70.02 L293.93,69.74 L294.53,69.48 L295.12,69.25 L295.72,69.02 L296.32,68.82 L296.91,68.63 L297.51,68.45 L298.10,68.29 L298.70,68.14 L299.30,68.00 L299.89,67.87 L300.49,67.75 L301.08,67.63 L301.68,67.53 L302.27,67.44 L302.87,67.35 L303.47,67.27 L304.06,67.19 L304.66,67.12 L305.25,67.06 L305.85,67.00 L306.45,66.95 L307.04,66.90 L307.64,66.85 L308.23,66.81 L308.83,66.77 L309.43,66.73 L310.02,66.70 L310.62,66.67 L311.21,66.64 L311.81,66.61 L312.40,66.59 L313.00,66.57" stroke="#000" stroke-width="1.25" fill="none"/>
<path d="M241.50,120.21 L242.10,120.21 L242.69,120.20 L243.29,120.19 L243.88,120.18 L244.48,120.17 L245.07,120.16 L245.67,120.15 L246.27,120.13 L246.86,120.12 L247.46,120.10 L248.05,120.08 L248.65,120.06 L249.25,120.04 L249.84,120.02 L250.44,119.99 L251.03,119.96 L251.63,119.93 L252.22,119.89 L252.82,119.85 L253.42,119.81 L254.01,119.76 L254.61,119.71 L255.20,119.65 L255.80,119.58 L256.40,119.51 L256.99,119.44 L257.59,119.35 L258.18,119.26 L258.78,119.16 L259.38,119.04 L259.97,118.92 L260.57,118.79 L261.16,118.64 L261.76,118.47 L262.35,118.30 L262.95,118.10 L263.55,117.89 L264.14,117.65 L264.74,117.40 L265.33,117.12 L265.93,116.82 L266.52,116.49 L267.12,116.13 L267.72,115.74 L268.31,115.32 L268.91,114.86 L269.50,114.37 L270.10,113.84 L270.70,113.26 L271.29,112.64 L271.89,111.98 L272.48,111.27 L273.08,110.52 L273.68,109.71 L274.27,108.86 L274.87,107.96 L275.46,107.01 L276.06,106.01 L276.65,104.96 L277.25,103.87 L277.85,102.73 L278.44,101.56 L279.04,100.35 L279.63,99.11 L280.23,97.84 L280.82,96.55 L281.42,95.25 L282.02,93.94 L282.61,92.62 L283.21,91.31 L283.80,90.01 L284.40,88.72 L285.00,87.45 L285.59,86.21 L286.19,85.00 L286.78,83.83 L287.38,82.70 L287.98,81.61 L288.57,80.56 L289.17,79.56 L289.76,78.61 L290.36,77.71 L290.95,76.86 L291.55,76.05 L292.15,75.30 L292.74,74.59 L293.34,73.93 L293.93,73.32 L294.53,72.74 L295.12,72.21 L295.72,71.72 L296.32,71.26 L296.91,70.84 L297.51,70.45 L298.10,70.09 L298.70,69.76 L299.30,69.46 L299.89,69.18 L300.49,68.93 L301.08,68.70 L301.68,68.48 L302.27,68.29 L302.87,68.11 L303.47,67.95 L304.06,67.80 L304.66,67.67 L305.25,67.54 L305.85,67.43 L306.45,67.33 L307.04,67.24 L307.64,67.15 L308.23,67.07 L308.83,67.00 L309.43,66.94 L310.02,66.88 L310.62,66.83 L311.21,66.78 L311.81,66.74 L312.40,66.70 L313.00,66.66" stroke="#000" stroke-width="1.25" fill="none"/>
<path d="M240.6,118.48 L244.4,118.48 L242.5,121.71 Z" stroke="#000" stroke-width="0.8" fill="none"/>
<path d="M250.79999999999998,116.98 L254.6,116.98 L252.7,120.21 Z" stroke="#000" stroke-width="0.8" fill="none"/>
<path d="M261.0,108.98 L264.79999999999995,108.98 L262.9,112.21 Z" stroke="#000" stroke-width="0.8" fill="none"/>
<path d="M270.90000000000003,95.68 L274.7,95.68 L272.8,98.91 Z" stroke="#000" stroke-width="0.8" fill="none"/>
<path d="M280.70000000000005,74.48 L284.5,74.48 L282.6,77.71 Z" stroke="#000" stroke-width="0.8" fill="none"/>
<path d="M290.70000000000005,64.48 L294.5,64.48 L292.6,67.71 Z" stroke="#000" stroke-width="0.8" fill="none"/>
<path d="M300.6,63.48 L304.4,63.48 L302.5,66.71 Z" stroke="#000" stroke-width="0.8" fill="none"/>
<path d="M310.8,70.48 L314.59999999999997,70.48 L312.7,73.71 Z" stroke="#000" stroke-width="0.8" fill="none"/>
<rect x="240.80" y="118.50" width="3.40" height="3.40" fill="#fff" stroke="#000" stroke-width="0.8"/>
<rect x="251.00" y="118.90" width="3.40" height="3.40" fill="#fff" stroke="#000" stroke-width="0.8"/>
<rect x="261.20" y="110.50" width="3.40" height="3.40" fill="#fff" stroke="#000" stroke-width="0.8"/>
<rect x="271.10" y="106.20" width="3.40" height="3.40" fill="#fff" stroke="#000" stroke-width="0.8"/>
<rect x="280.90" y="91.70" width="3.40" height="3.40" fill="#fff" stroke="#000" stroke-width="0.8"/>
<rect x="290.90" y="77.30" width="3.40" height="3.40" fill="#fff" stroke="#000" stroke-width="0.8"/>
<rect x="300.80" y="64.80" width="3.40" height="3.40" fill="#fff" stroke="#000" stroke-width="0.8"/>
<rect x="311.00" y="72.70" width="3.40" height="3.40" fill="#fff" stroke="#000" stroke-width="0.8"/>
<rect x="240.70" y="117.90" width="3.60" height="3.60" fill="#000"/>
<rect x="250.90" y="115.80" width="3.60" height="3.60" fill="#000"/>
<rect x="261.10" y="107.00" width="3.60" height="3.60" fill="#000"/>
<rect x="271.00" y="93.40" width="3.60" height="3.60" fill="#000"/>
<rect x="280.80" y="72.60" width="3.60" height="3.60" fill="#000"/>
<rect x="290.80" y="62.10" width="3.60" height="3.60" fill="#000"/>
<rect x="300.70" y="62.10" width="3.60" height="3.60" fill="#000"/>
<rect x="310.90" y="68.10" width="3.60" height="3.60" fill="#000"/>
<line x1="220.3" y1="189.9" x2="220.3" y2="295.8" stroke="#000" stroke-width="1.3"/>
<line x1="219.7" y1="295.2" x2="325.4" y2="295.2" stroke="#000" stroke-width="1.3"/>
<line x1="217.2" y1="295.2" x2="220.3" y2="295.2" stroke="#000" stroke-width="0.9"/>
<text x="217.4" y="297.3" font-size="6.0" text-anchor="end" fill="#000" style="stroke:#000;stroke-width:0.08px">0</text>
<line x1="217.2" y1="277.8" x2="220.3" y2="277.8" stroke="#000" stroke-width="0.9"/>
<text x="217.4" y="279.90000000000003" font-size="6.0" text-anchor="end" fill="#000" style="stroke:#000;stroke-width:0.08px">25</text>
<line x1="217.2" y1="260.4" x2="220.3" y2="260.4" stroke="#000" stroke-width="0.9"/>
<text x="217.4" y="262.5" font-size="6.0" text-anchor="end" fill="#000" style="stroke:#000;stroke-width:0.08px">50</text>
<line x1="217.2" y1="243.0" x2="220.3" y2="243.0" stroke="#000" stroke-width="0.9"/>
<text x="217.4" y="245.1" font-size="6.0" text-anchor="end" fill="#000" style="stroke:#000;stroke-width:0.08px">75</text>
<line x1="217.2" y1="225.6" x2="220.3" y2="225.6" stroke="#000" stroke-width="0.9"/>
<text x="217.4" y="227.7" font-size="6.0" text-anchor="end" fill="#000" style="stroke:#000;stroke-width:0.08px">100</text>
<line x1="217.2" y1="208.2" x2="220.3" y2="208.2" stroke="#000" stroke-width="0.9"/>
<text x="217.4" y="210.29999999999998" font-size="6.0" text-anchor="end" fill="#000" style="stroke:#000;stroke-width:0.08px">125</text>
<line x1="217.2" y1="190.8" x2="220.3" y2="190.8" stroke="#000" stroke-width="0.9"/>
<text x="217.4" y="192.9" font-size="6.0" text-anchor="end" fill="#000" style="stroke:#000;stroke-width:0.08px">150</text>
<line x1="220.3" y1="295.2" x2="220.3" y2="297.8" stroke="#000" stroke-width="0.9"/>
<line x1="224.25252384306808" y1="295.2" x2="224.25252384306808" y2="296.7" stroke="#000" stroke-width="0.6"/>
<line x1="226.56460207446918" y1="295.2" x2="226.56460207446918" y2="296.7" stroke="#000" stroke-width="0.6"/>
<line x1="228.20504768613617" y1="295.2" x2="228.20504768613617" y2="296.7" stroke="#000" stroke-width="0.6"/>
<line x1="229.47747615693194" y1="295.2" x2="229.47747615693194" y2="296.7" stroke="#000" stroke-width="0.6"/>
<line x1="230.51712591753724" y1="295.2" x2="230.51712591753724" y2="296.7" stroke="#000" stroke-width="0.6"/>
<line x1="231.3961372653872" y1="295.2" x2="231.3961372653872" y2="296.7" stroke="#000" stroke-width="0.6"/>
<line x1="232.15757152920423" y1="295.2" x2="232.15757152920423" y2="296.7" stroke="#000" stroke-width="0.6"/>
<line x1="232.82920414893835" y1="295.2" x2="232.82920414893835" y2="296.7" stroke="#000" stroke-width="0.6"/>
<text x="220.3" y="303.6" font-size="5.9" text-anchor="middle" fill="#000" style="stroke:#000;stroke-width:0.08px">10<tspan dy="-2.4" font-size="3.8">-5</tspan></text>
<line x1="233.43" y1="295.2" x2="233.43" y2="297.8" stroke="#000" stroke-width="0.9"/>
<line x1="237.3825238430681" y1="295.2" x2="237.3825238430681" y2="296.7" stroke="#000" stroke-width="0.6"/>
<line x1="239.69460207446917" y1="295.2" x2="239.69460207446917" y2="296.7" stroke="#000" stroke-width="0.6"/>
<line x1="241.33504768613616" y1="295.2" x2="241.33504768613616" y2="296.7" stroke="#000" stroke-width="0.6"/>
<line x1="242.60747615693194" y1="295.2" x2="242.60747615693194" y2="296.7" stroke="#000" stroke-width="0.6"/>
<line x1="243.64712591753727" y1="295.2" x2="243.64712591753727" y2="296.7" stroke="#000" stroke-width="0.6"/>
<line x1="244.5261372653872" y1="295.2" x2="244.5261372653872" y2="296.7" stroke="#000" stroke-width="0.6"/>
<line x1="245.28757152920423" y1="295.2" x2="245.28757152920423" y2="296.7" stroke="#000" stroke-width="0.6"/>
<line x1="245.95920414893834" y1="295.2" x2="245.95920414893834" y2="296.7" stroke="#000" stroke-width="0.6"/>
<text x="233.43" y="303.6" font-size="5.9" text-anchor="middle" fill="#000" style="stroke:#000;stroke-width:0.08px">10<tspan dy="-2.4" font-size="3.8">-4</tspan></text>
<line x1="246.56" y1="295.2" x2="246.56" y2="297.8" stroke="#000" stroke-width="0.9"/>
<line x1="250.5125238430681" y1="295.2" x2="250.5125238430681" y2="296.7" stroke="#000" stroke-width="0.6"/>
<line x1="252.82460207446917" y1="295.2" x2="252.82460207446917" y2="296.7" stroke="#000" stroke-width="0.6"/>
<line x1="254.46504768613616" y1="295.2" x2="254.46504768613616" y2="296.7" stroke="#000" stroke-width="0.6"/>
<line x1="255.73747615693193" y1="295.2" x2="255.73747615693193" y2="296.7" stroke="#000" stroke-width="0.6"/>
<line x1="256.77712591753726" y1="295.2" x2="256.77712591753726" y2="296.7" stroke="#000" stroke-width="0.6"/>
<line x1="257.6561372653872" y1="295.2" x2="257.6561372653872" y2="296.7" stroke="#000" stroke-width="0.6"/>
<line x1="258.4175715292042" y1="295.2" x2="258.4175715292042" y2="296.7" stroke="#000" stroke-width="0.6"/>
<line x1="259.08920414893834" y1="295.2" x2="259.08920414893834" y2="296.7" stroke="#000" stroke-width="0.6"/>
<text x="246.56" y="303.6" font-size="5.9" text-anchor="middle" fill="#000" style="stroke:#000;stroke-width:0.08px">10<tspan dy="-2.4" font-size="3.8">-3</tspan></text>
<line x1="259.69" y1="295.2" x2="259.69" y2="297.8" stroke="#000" stroke-width="0.9"/>
<line x1="263.6425238430681" y1="295.2" x2="263.6425238430681" y2="296.7" stroke="#000" stroke-width="0.6"/>
<line x1="265.95460207446916" y1="295.2" x2="265.95460207446916" y2="296.7" stroke="#000" stroke-width="0.6"/>
<line x1="267.5950476861362" y1="295.2" x2="267.5950476861362" y2="296.7" stroke="#000" stroke-width="0.6"/>
<line x1="268.86747615693196" y1="295.2" x2="268.86747615693196" y2="296.7" stroke="#000" stroke-width="0.6"/>
<line x1="269.90712591753726" y1="295.2" x2="269.90712591753726" y2="296.7" stroke="#000" stroke-width="0.6"/>
<line x1="270.7861372653872" y1="295.2" x2="270.7861372653872" y2="296.7" stroke="#000" stroke-width="0.6"/>
<line x1="271.5475715292042" y1="295.2" x2="271.5475715292042" y2="296.7" stroke="#000" stroke-width="0.6"/>
<line x1="272.21920414893833" y1="295.2" x2="272.21920414893833" y2="296.7" stroke="#000" stroke-width="0.6"/>
<text x="259.69" y="303.6" font-size="5.9" text-anchor="middle" fill="#000" style="stroke:#000;stroke-width:0.08px">10<tspan dy="-2.4" font-size="3.8">-2</tspan></text>
<line x1="272.82" y1="295.2" x2="272.82" y2="297.8" stroke="#000" stroke-width="0.9"/>
<line x1="276.7725238430681" y1="295.2" x2="276.7725238430681" y2="296.7" stroke="#000" stroke-width="0.6"/>
<line x1="279.08460207446916" y1="295.2" x2="279.08460207446916" y2="296.7" stroke="#000" stroke-width="0.6"/>
<line x1="280.7250476861362" y1="295.2" x2="280.7250476861362" y2="296.7" stroke="#000" stroke-width="0.6"/>
<line x1="281.99747615693195" y1="295.2" x2="281.99747615693195" y2="296.7" stroke="#000" stroke-width="0.6"/>
<line x1="283.03712591753725" y1="295.2" x2="283.03712591753725" y2="296.7" stroke="#000" stroke-width="0.6"/>
<line x1="283.9161372653872" y1="295.2" x2="283.9161372653872" y2="296.7" stroke="#000" stroke-width="0.6"/>
<line x1="284.6775715292042" y1="295.2" x2="284.6775715292042" y2="296.7" stroke="#000" stroke-width="0.6"/>
<line x1="285.3492041489384" y1="295.2" x2="285.3492041489384" y2="296.7" stroke="#000" stroke-width="0.6"/>
<text x="272.82" y="303.6" font-size="5.9" text-anchor="middle" fill="#000" style="stroke:#000;stroke-width:0.08px">10<tspan dy="-2.4" font-size="3.8">-1</tspan></text>
<line x1="285.95000000000005" y1="295.2" x2="285.95000000000005" y2="297.8" stroke="#000" stroke-width="0.9"/>
<line x1="289.9025238430681" y1="295.2" x2="289.9025238430681" y2="296.7" stroke="#000" stroke-width="0.6"/>
<line x1="292.2146020744692" y1="295.2" x2="292.2146020744692" y2="296.7" stroke="#000" stroke-width="0.6"/>
<line x1="293.8550476861362" y1="295.2" x2="293.8550476861362" y2="296.7" stroke="#000" stroke-width="0.6"/>
<line x1="295.12747615693195" y1="295.2" x2="295.12747615693195" y2="296.7" stroke="#000" stroke-width="0.6"/>
<line x1="296.16712591753725" y1="295.2" x2="296.16712591753725" y2="296.7" stroke="#000" stroke-width="0.6"/>
<line x1="297.0461372653872" y1="295.2" x2="297.0461372653872" y2="296.7" stroke="#000" stroke-width="0.6"/>
<line x1="297.8075715292042" y1="295.2" x2="297.8075715292042" y2="296.7" stroke="#000" stroke-width="0.6"/>
<line x1="298.4792041489384" y1="295.2" x2="298.4792041489384" y2="296.7" stroke="#000" stroke-width="0.6"/>
<text x="285.95000000000005" y="303.6" font-size="5.9" text-anchor="middle" fill="#000" style="stroke:#000;stroke-width:0.08px">10<tspan dy="-2.4" font-size="3.8">0</tspan></text>
<line x1="299.08000000000004" y1="295.2" x2="299.08000000000004" y2="297.8" stroke="#000" stroke-width="0.9"/>
<line x1="303.0325238430681" y1="295.2" x2="303.0325238430681" y2="296.7" stroke="#000" stroke-width="0.6"/>
<line x1="305.3446020744692" y1="295.2" x2="305.3446020744692" y2="296.7" stroke="#000" stroke-width="0.6"/>
<line x1="306.98504768613617" y1="295.2" x2="306.98504768613617" y2="296.7" stroke="#000" stroke-width="0.6"/>
<line x1="308.25747615693194" y1="295.2" x2="308.25747615693194" y2="296.7" stroke="#000" stroke-width="0.6"/>
<line x1="309.29712591753724" y1="295.2" x2="309.29712591753724" y2="296.7" stroke="#000" stroke-width="0.6"/>
<line x1="310.1761372653872" y1="295.2" x2="310.1761372653872" y2="296.7" stroke="#000" stroke-width="0.6"/>
<line x1="310.9375715292042" y1="295.2" x2="310.9375715292042" y2="296.7" stroke="#000" stroke-width="0.6"/>
<line x1="311.6092041489384" y1="295.2" x2="311.6092041489384" y2="296.7" stroke="#000" stroke-width="0.6"/>
<text x="299.08000000000004" y="303.6" font-size="5.9" text-anchor="middle" fill="#000" style="stroke:#000;stroke-width:0.08px">10<tspan dy="-2.4" font-size="3.8">1</tspan></text>
<line x1="312.21000000000004" y1="295.2" x2="312.21000000000004" y2="297.8" stroke="#000" stroke-width="0.9"/>
<line x1="316.1625238430681" y1="295.2" x2="316.1625238430681" y2="296.7" stroke="#000" stroke-width="0.6"/>
<line x1="318.4746020744692" y1="295.2" x2="318.4746020744692" y2="296.7" stroke="#000" stroke-width="0.6"/>
<line x1="320.11504768613617" y1="295.2" x2="320.11504768613617" y2="296.7" stroke="#000" stroke-width="0.6"/>
<line x1="321.38747615693194" y1="295.2" x2="321.38747615693194" y2="296.7" stroke="#000" stroke-width="0.6"/>
<line x1="322.4271259175373" y1="295.2" x2="322.4271259175373" y2="296.7" stroke="#000" stroke-width="0.6"/>
<line x1="323.3061372653872" y1="295.2" x2="323.3061372653872" y2="296.7" stroke="#000" stroke-width="0.6"/>
<line x1="324.06757152920426" y1="295.2" x2="324.06757152920426" y2="296.7" stroke="#000" stroke-width="0.6"/>
<line x1="324.73920414893837" y1="295.2" x2="324.73920414893837" y2="296.7" stroke="#000" stroke-width="0.6"/>
<text x="312.21000000000004" y="303.6" font-size="5.9" text-anchor="middle" fill="#000" style="stroke:#000;stroke-width:0.08px">10<tspan dy="-2.4" font-size="3.8">2</tspan></text>
<line x1="325.34000000000003" y1="295.2" x2="325.34000000000003" y2="297.8" stroke="#000" stroke-width="0.9"/>
<text x="325.34000000000003" y="303.6" font-size="5.9" text-anchor="middle" fill="#000" style="stroke:#000;stroke-width:0.08px">10<tspan dy="-2.4" font-size="3.8">3</tspan></text>
<text x="235.3" y="313.7" font-size="7.2" textLength="81.3" lengthAdjust="spacingAndGlyphs" fill="#000" style="stroke:#000;stroke-width:0.22px">Fusion protein [nmol/L]</text>
<text x="195.9" y="242.4" font-size="7.0" text-anchor="middle" transform="rotate(-90 195.9 242.4)" fill="#000" style="stroke:#000;stroke-width:0.22px">CTLL-2</text>
<text x="204.0" y="242.4" font-size="7.0" text-anchor="middle" textLength="55.3" lengthAdjust="spacingAndGlyphs" transform="rotate(-90 204.0 242.4)" fill="#000" style="stroke:#000;stroke-width:0.22px">proliferation [%]</text>
<path d="M224.29999999999998,194.38 L228.1,194.38 L226.2,197.61 Z" stroke="#000" stroke-width="0.8" fill="none"/>
<rect x="224.40" y="201.90" width="3.60" height="3.60" fill="#000"/>
<rect x="224.50" y="209.30" width="3.40" height="3.40" fill="#fff" stroke="#000" stroke-width="0.8"/>
<text x="233.3" y="197.9" font-size="6.5" textLength="41.6" lengthAdjust="spacingAndGlyphs" fill="#000" style="stroke:#000;stroke-width:0.08px">RD_IL15_scFv</text>
<text x="233.3" y="205.5" font-size="6.5" textLength="69.6" lengthAdjust="spacingAndGlyphs" fill="#000" style="stroke:#000;stroke-width:0.08px">RD_IL15_scFv_scGITRL</text>
<text x="233.3" y="212.9" font-size="6.5" textLength="73.5" lengthAdjust="spacingAndGlyphs" fill="#000" style="stroke:#000;stroke-width:0.08px">RD_IL15_scFv_scOX40L</text>
<line x1="288.2" y1="218.0" x2="288.2" y2="242.0" stroke="#000" stroke-width="0.8"/>
<line x1="286.7" y1="218.0" x2="289.7" y2="218.0" stroke="#000" stroke-width="0.8"/>
<line x1="286.7" y1="242.0" x2="289.7" y2="242.0" stroke="#000" stroke-width="0.8"/>
<line x1="297.3" y1="218.0" x2="297.3" y2="269.5" stroke="#000" stroke-width="0.8"/>
<line x1="295.8" y1="218.0" x2="298.8" y2="218.0" stroke="#000" stroke-width="0.8"/>
<line x1="295.8" y1="269.5" x2="298.8" y2="269.5" stroke="#000" stroke-width="0.8"/>
<line x1="307.0" y1="213.6" x2="307.0" y2="234.7" stroke="#000" stroke-width="0.8"/>
<line x1="305.5" y1="213.6" x2="308.5" y2="213.6" stroke="#000" stroke-width="0.8"/>
<line x1="305.5" y1="234.7" x2="308.5" y2="234.7" stroke="#000" stroke-width="0.8"/>
<line x1="317.0" y1="207.5" x2="317.0" y2="281.6" stroke="#000" stroke-width="0.8"/>
<line x1="315.5" y1="207.5" x2="318.5" y2="207.5" stroke="#000" stroke-width="0.8"/>
<line x1="315.5" y1="281.6" x2="318.5" y2="281.6" stroke="#000" stroke-width="0.8"/>
<path d="M262.00,295.20 L262.47,295.20 L262.93,295.20 L263.40,295.20 L263.87,295.20 L264.33,295.20 L264.80,295.20 L265.27,295.20 L265.73,295.20 L266.20,295.20 L266.67,295.20 L267.13,295.20 L267.60,295.20 L268.07,295.20 L268.53,295.20 L269.00,295.20 L269.47,295.20 L269.93,294.94 L270.40,294.57 L270.87,294.16 L271.33,293.71 L271.80,293.21 L272.27,292.65 L272.73,292.04 L273.20,291.36 L273.67,290.61 L274.13,289.79 L274.60,288.89 L275.07,287.91 L275.53,286.84 L276.00,285.68 L276.47,284.42 L276.93,283.07 L277.40,281.63 L277.87,280.08 L278.33,278.45 L278.80,276.73 L279.27,274.92 L279.73,273.03 L280.20,271.08 L280.67,269.07 L281.13,267.02 L281.60,264.93 L282.07,262.83 L282.53,260.72 L283.00,258.63 L283.47,256.57 L283.93,254.54 L284.40,252.57 L284.87,250.66 L285.33,248.83 L285.80,247.08 L286.27,245.41 L286.73,243.84 L287.20,242.36 L287.67,240.98 L288.13,239.70 L288.60,238.51 L289.07,237.41 L289.53,236.40 L290.00,235.47 L290.47,234.62 L290.93,233.85 L291.40,233.15 L291.87,232.51 L292.33,231.94 L292.80,231.42 L293.27,230.95 L293.73,230.53 L294.20,230.15 L294.67,229.81 L295.13,229.51 L295.60,229.24 L296.07,228.99 L296.53,228.77 L297.00,228.58 L297.47,228.41 L297.93,228.25 L298.40,228.11 L298.87,227.99 L299.33,227.88 L299.80,227.78 L300.27,227.69 L300.73,227.61 L301.20,227.55 L301.67,227.48 L302.13,227.43 L302.60,227.38 L303.07,227.34 L303.53,227.30 L304.00,227.26 L304.47,227.23 L304.93,227.21 L305.40,227.18 L305.87,227.16 L306.33,227.14 L306.80,227.13 L307.27,227.11 L307.73,227.10 L308.20,227.09 L308.67,227.08 L309.13,227.07 L309.60,227.06 L310.07,227.05 L310.53,227.04 L311.00,227.04 L311.47,227.03 L311.93,227.03 L312.40,227.02 L312.87,227.02 L313.33,227.02 L313.80,227.01 L314.27,227.01 L314.73,227.01 L315.20,227.01 L315.67,227.01 L316.13,227.00 L316.60,227.00 L317.07,227.00 L317.53,227.00 L318.00,227.00" stroke="#000" stroke-width="1.3" fill="none"/>
<path d="M262.00,295.20 L262.47,295.20 L262.93,295.20 L263.40,295.20 L263.87,295.20 L264.33,295.20 L264.80,295.20 L265.27,295.20 L265.73,295.20 L266.20,295.20 L266.67,295.20 L267.13,295.20 L267.60,295.20 L268.07,295.20 L268.53,295.20 L269.00,295.20 L269.47,295.20 L269.93,295.20 L270.40,295.20 L270.87,295.20 L271.33,295.20 L271.80,295.20 L272.27,295.20 L272.73,295.00 L273.20,294.64 L273.67,294.25 L274.13,293.80 L274.60,293.31 L275.07,292.76 L275.53,292.16 L276.00,291.49 L276.47,290.76 L276.93,289.95 L277.40,289.07 L277.87,288.10 L278.33,287.05 L278.80,285.90 L279.27,284.67 L279.73,283.34 L280.20,281.91 L280.67,280.38 L281.13,278.77 L281.60,277.06 L282.07,275.27 L282.53,273.40 L283.00,271.46 L283.47,269.46 L283.93,267.41 L284.40,265.33 L284.87,263.23 L285.33,261.12 L285.80,259.03 L286.27,256.96 L286.73,254.92 L287.20,252.94 L287.67,251.02 L288.13,249.17 L288.60,247.40 L289.07,245.72 L289.53,244.13 L290.00,242.64 L290.47,241.24 L290.93,239.93 L291.40,238.72 L291.87,237.61 L292.33,236.58 L292.80,235.64 L293.27,234.78 L293.73,233.99 L294.20,233.28 L294.67,232.63 L295.13,232.04 L295.60,231.52 L296.07,231.04 L296.53,230.61 L297.00,230.22 L297.47,229.88 L297.93,229.56 L298.40,229.29 L298.87,229.04 L299.33,228.81 L299.80,228.61 L300.27,228.44 L300.73,228.28 L301.20,228.14 L301.67,228.01 L302.13,227.90 L302.60,227.80 L303.07,227.71 L303.53,227.63 L304.00,227.56 L304.47,227.50 L304.93,227.44 L305.40,227.39 L305.87,227.35 L306.33,227.31 L306.80,227.27 L307.27,227.24 L307.73,227.21 L308.20,227.19 L308.67,227.17 L309.13,227.15 L309.60,227.13 L310.07,227.11 L310.53,227.10 L311.00,227.09 L311.47,227.08 L311.93,227.07 L312.40,227.06 L312.87,227.05 L313.33,227.05 L313.80,227.04 L314.27,227.03 L314.73,227.03 L315.20,227.03 L315.67,227.02 L316.13,227.02 L316.60,227.02 L317.07,227.01 L317.53,227.01 L318.00,227.01" stroke="#000" stroke-width="1.3" fill="none"/>
<path d="M262.00,295.20 L262.47,295.20 L262.93,295.20 L263.40,295.20 L263.87,295.20 L264.33,295.20 L264.80,295.20 L265.27,295.20 L265.73,295.20 L266.20,295.20 L266.67,295.20 L267.13,295.20 L267.60,295.20 L268.07,295.20 L268.53,295.20 L269.00,295.20 L269.47,295.20 L269.93,295.20 L270.40,295.20 L270.87,295.20 L271.33,295.20 L271.80,295.20 L272.27,295.20 L272.73,295.20 L273.20,295.20 L273.67,295.20 L274.13,295.20 L274.60,295.20 L275.07,295.20 L275.53,295.20 L276.00,295.20 L276.47,295.20 L276.93,295.20 L277.40,295.20 L277.87,295.20 L278.33,295.20 L278.80,295.20 L279.27,295.20 L279.73,295.20 L280.20,295.20 L280.67,295.20 L281.13,295.20 L281.60,295.20 L282.07,295.20 L282.53,295.20 L283.00,295.20 L283.47,295.04 L283.93,294.67 L284.40,294.26 L284.87,293.80 L285.33,293.29 L285.80,292.73 L286.27,292.10 L286.73,291.40 L287.20,290.63 L287.67,289.78 L288.13,288.85 L288.60,287.82 L289.07,286.71 L289.53,285.49 L290.00,284.18 L290.47,282.76 L290.93,281.24 L291.40,279.62 L291.87,277.90 L292.33,276.09 L292.80,274.19 L293.27,272.21 L293.73,270.16 L294.20,268.06 L294.67,265.92 L295.13,263.75 L295.60,261.57 L296.07,259.40 L296.53,257.25 L297.00,255.14 L297.47,253.09 L297.93,251.09 L298.40,249.18 L298.87,247.35 L299.33,245.62 L299.80,243.98 L300.27,242.45 L300.73,241.01 L301.20,239.68 L301.67,238.45 L302.13,237.32 L302.60,236.28 L303.07,235.34 L303.53,234.48 L304.00,233.69 L304.47,232.98 L304.93,232.34 L305.40,231.77 L305.87,231.25 L306.33,230.78 L306.80,230.37 L307.27,229.99 L307.73,229.66 L308.20,229.36 L308.67,229.10 L309.13,228.86 L309.60,228.65 L310.07,228.46 L310.53,228.29 L311.00,228.15 L311.47,228.01 L311.93,227.90 L312.40,227.79 L312.87,227.70 L313.33,227.62 L313.80,227.55 L314.27,227.49 L314.73,227.43 L315.20,227.38 L315.67,227.33 L316.13,227.29 L316.60,227.26 L317.07,227.23 L317.53,227.20 L318.00,227.18" stroke="#000" stroke-width="1.3" fill="none"/>
<rect x="259.30" y="292.30" width="3.40" height="3.40" fill="#fff" stroke="#000" stroke-width="0.8"/>
<rect x="275.90" y="292.30" width="3.40" height="3.40" fill="#fff" stroke="#000" stroke-width="0.8"/>
<rect x="286.50" y="291.30" width="3.40" height="3.40" fill="#fff" stroke="#000" stroke-width="0.8"/>
<rect x="295.60" y="252.70" width="3.40" height="3.40" fill="#fff" stroke="#000" stroke-width="0.8"/>
<rect x="315.30" y="231.80" width="3.40" height="3.40" fill="#fff" stroke="#000" stroke-width="0.8"/>
<rect x="268.20" y="292.20" width="3.60" height="3.60" fill="#000"/>
<rect x="277.40" y="272.20" width="3.60" height="3.60" fill="#000"/>
<rect x="286.40" y="228.40" width="3.60" height="3.60" fill="#000"/>
<rect x="295.50" y="232.90" width="3.60" height="3.60" fill="#000"/>
<rect x="305.20" y="223.70" width="3.60" height="3.60" fill="#000"/>
<rect x="315.20" y="233.70" width="3.60" height="3.60" fill="#000"/>
<path d="M277.3,290.48 L281.09999999999997,290.48 L279.2,293.71 Z" stroke="#000" stroke-width="0.8" fill="none"/>
<path d="M295.40000000000003,221.17999999999998 L299.2,221.17999999999998 L297.3,224.41 Z" stroke="#000" stroke-width="0.8" fill="none"/>
<path d="M305.1,226.48 L308.9,226.48 L307.0,229.71 Z" stroke="#000" stroke-width="0.8" fill="none"/>
<path d="M286.3,234.98 L290.09999999999997,234.98 L288.2,238.21 Z" stroke="#000" stroke-width="0.8" fill="none"/>
<path d="M315.1,229.98 L318.9,229.98 L317.0,233.21 Z" stroke="#000" stroke-width="0.8" fill="none"/>
<line x1="361.3" y1="21.0" x2="361.3" y2="125.4" stroke="#000" stroke-width="1.1"/>
<line x1="360.8" y1="124.9" x2="519.5" y2="124.9" stroke="#000" stroke-width="1.1"/>
<line x1="358.5" y1="124.6" x2="361.3" y2="124.6" stroke="#000" stroke-width="0.9"/>
<text x="358.7" y="126.8" font-size="6.3" text-anchor="end" fill="#000" style="stroke:#000;stroke-width:0.08px">0</text>
<line x1="359.6" y1="114.28" x2="361.3" y2="114.28" stroke="#000" stroke-width="0.8"/>
<line x1="358.5" y1="103.96" x2="361.3" y2="103.96" stroke="#000" stroke-width="0.9"/>
<text x="358.7" y="106.16" font-size="6.3" text-anchor="end" fill="#000" style="stroke:#000;stroke-width:0.08px">20</text>
<line x1="359.6" y1="93.63999999999999" x2="361.3" y2="93.63999999999999" stroke="#000" stroke-width="0.8"/>
<line x1="358.5" y1="83.32" x2="361.3" y2="83.32" stroke="#000" stroke-width="0.9"/>
<text x="358.7" y="85.52" font-size="6.3" text-anchor="end" fill="#000" style="stroke:#000;stroke-width:0.08px">40</text>
<line x1="359.6" y1="73.0" x2="361.3" y2="73.0" stroke="#000" stroke-width="0.8"/>
<line x1="358.5" y1="62.67999999999999" x2="361.3" y2="62.67999999999999" stroke="#000" stroke-width="0.9"/>
<text x="358.7" y="64.88" font-size="6.3" text-anchor="end" fill="#000" style="stroke:#000;stroke-width:0.08px">60</text>
<line x1="359.6" y1="52.359999999999985" x2="361.3" y2="52.359999999999985" stroke="#000" stroke-width="0.8"/>
<line x1="358.5" y1="42.03999999999999" x2="361.3" y2="42.03999999999999" stroke="#000" stroke-width="0.9"/>
<text x="358.7" y="44.239999999999995" font-size="6.3" text-anchor="end" fill="#000" style="stroke:#000;stroke-width:0.08px">80</text>
<line x1="359.6" y1="31.72" x2="361.3" y2="31.72" stroke="#000" stroke-width="0.8"/>
<line x1="358.5" y1="21.39999999999999" x2="361.3" y2="21.39999999999999" stroke="#000" stroke-width="0.9"/>
<text x="358.7" y="23.59999999999999" font-size="6.3" text-anchor="end" fill="#000" style="stroke:#000;stroke-width:0.08px">100</text>
<line x1="377.2" y1="124.9" x2="377.2" y2="127.2" stroke="#000" stroke-width="0.9"/>
<text x="377.2" y="133.5" font-size="6.3" text-anchor="middle" fill="#000" style="stroke:#000;stroke-width:0.08px">0</text>
<rect x="365.65" y="120.51" width="5.90" height="4.39" fill="#fff" stroke="#000" stroke-width="0.9"/>
<rect x="374.25" y="120.10" width="5.90" height="4.80" fill="#a8a8a8" stroke="#000" stroke-width="0.9"/>
<rect x="382.85" y="121.85" width="5.90" height="3.05" fill="#000" stroke="#000" stroke-width="0.9"/>
<line x1="408.6" y1="124.9" x2="408.6" y2="127.2" stroke="#000" stroke-width="0.9"/>
<text x="408.6" y="133.5" font-size="6.3" text-anchor="middle" fill="#000" style="stroke:#000;stroke-width:0.08px">0,09</text>
<line x1="400.0" y1="116.4472" x2="400.0" y2="113.9704" stroke="#000" stroke-width="0.9"/>
<line x1="398.1" y1="113.9704" x2="401.9" y2="113.9704" stroke="#000" stroke-width="0.9"/>
<rect x="397.05" y="116.90" width="5.90" height="8.00" fill="#fff" stroke="#000" stroke-width="0.9"/>
<rect x="405.65" y="119.68" width="5.90" height="5.22" fill="#a8a8a8" stroke="#000" stroke-width="0.9"/>
<rect x="414.25" y="120.51" width="5.90" height="4.39" fill="#000" stroke="#000" stroke-width="0.9"/>
<line x1="440.0" y1="124.9" x2="440.0" y2="127.2" stroke="#000" stroke-width="0.9"/>
<text x="440.0" y="133.5" font-size="6.3" text-anchor="middle" fill="#000" style="stroke:#000;stroke-width:0.08px">0,9</text>
<line x1="431.4" y1="98.8" x2="431.4" y2="95.9104" stroke="#000" stroke-width="0.9"/>
<line x1="429.5" y1="95.9104" x2="433.29999999999995" y2="95.9104" stroke="#000" stroke-width="0.9"/>
<rect x="428.45" y="99.25" width="5.90" height="25.65" fill="#fff" stroke="#000" stroke-width="0.9"/>
<rect x="437.05" y="116.90" width="5.90" height="8.00" fill="#a8a8a8" stroke="#000" stroke-width="0.9"/>
<line x1="448.6" y1="107.77839999999999" x2="448.6" y2="101.89599999999999" stroke="#000" stroke-width="0.9"/>
<line x1="446.70000000000005" y1="101.89599999999999" x2="450.5" y2="101.89599999999999" stroke="#000" stroke-width="0.9"/>
<rect x="445.65" y="108.23" width="5.90" height="16.67" fill="#000" stroke="#000" stroke-width="0.9"/>
<line x1="471.4" y1="124.9" x2="471.4" y2="127.2" stroke="#000" stroke-width="0.9"/>
<text x="471.4" y="133.5" font-size="6.3" text-anchor="middle" fill="#000" style="stroke:#000;stroke-width:0.08px">9,0</text>
<line x1="462.79999999999995" y1="83.9392" x2="462.79999999999995" y2="82.288" stroke="#000" stroke-width="0.9"/>
<line x1="460.9" y1="82.288" x2="464.69999999999993" y2="82.288" stroke="#000" stroke-width="0.9"/>
<rect x="459.85" y="84.39" width="5.90" height="40.51" fill="#fff" stroke="#000" stroke-width="0.9"/>
<rect x="468.45" y="105.55" width="5.90" height="19.35" fill="#a8a8a8" stroke="#000" stroke-width="0.9"/>
<line x1="480.0" y1="95.9104" x2="480.0" y2="91.8856" stroke="#000" stroke-width="0.9"/>
<line x1="478.1" y1="91.8856" x2="481.9" y2="91.8856" stroke="#000" stroke-width="0.9"/>
<rect x="477.05" y="96.36" width="5.90" height="28.54" fill="#000" stroke="#000" stroke-width="0.9"/>
<line x1="502.8" y1="124.9" x2="502.8" y2="127.2" stroke="#000" stroke-width="0.9"/>
<text x="502.8" y="133.5" font-size="6.3" text-anchor="middle" fill="#000" style="stroke:#000;stroke-width:0.08px">90</text>
<line x1="494.2" y1="83.21679999999999" x2="494.2" y2="81.0496" stroke="#000" stroke-width="0.9"/>
<line x1="492.3" y1="81.0496" x2="496.09999999999997" y2="81.0496" stroke="#000" stroke-width="0.9"/>
<rect x="491.25" y="83.67" width="5.90" height="41.23" fill="#fff" stroke="#000" stroke-width="0.9"/>
<line x1="502.8" y1="95.9104" x2="502.8" y2="91.8856" stroke="#000" stroke-width="0.9"/>
<line x1="500.90000000000003" y1="91.8856" x2="504.7" y2="91.8856" stroke="#000" stroke-width="0.9"/>
<rect x="499.85" y="96.36" width="5.90" height="28.54" fill="#a8a8a8" stroke="#000" stroke-width="0.9"/>
<line x1="511.40000000000003" y1="90.7504" x2="511.40000000000003" y2="88.8928" stroke="#000" stroke-width="0.9"/>
<line x1="509.50000000000006" y1="88.8928" x2="513.3000000000001" y2="88.8928" stroke="#000" stroke-width="0.9"/>
<rect x="508.45" y="91.20" width="5.90" height="33.70" fill="#000" stroke="#000" stroke-width="0.9"/>
<text x="400.8" y="144.5" font-size="7.2" textLength="77.5" lengthAdjust="spacingAndGlyphs" fill="#000" style="stroke:#000;stroke-width:0.22px">Fusion protein [nmol/L]</text>
<text x="337.4" y="72.4" font-size="6.9" text-anchor="middle" transform="rotate(-90 337.4 72.4)" fill="#000" style="stroke:#000;stroke-width:0.22px">PBMCs</text>
<text x="344.6" y="72.35" font-size="7.0" text-anchor="middle" textLength="55.5" lengthAdjust="spacingAndGlyphs" transform="rotate(-90 344.6 72.35)" fill="#000" style="stroke:#000;stroke-width:0.22px">proliferation [%]</text>
<rect x="366.90" y="25.40" width="11.30" height="4.30" fill="#000" stroke="#000" stroke-width="0.9"/>
<text x="379.7" y="30.0" font-size="6.8" textLength="71.3" lengthAdjust="spacingAndGlyphs" fill="#000" style="stroke:#000;stroke-width:0.22px">RD_IL15_scFv_scGITRL</text>
<rect x="366.90" y="34.20" width="11.30" height="3.80" fill="#a0a0a0" stroke="#000" stroke-width="0.9"/>
<text x="379.7" y="38.300000000000004" font-size="6.8" textLength="71.3" lengthAdjust="spacingAndGlyphs" fill="#000" style="stroke:#000;stroke-width:0.22px">RD_IL15_scFv_scOX40L</text>
<rect x="366.90" y="42.80" width="11.30" height="3.90" fill="#fff" stroke="#000" stroke-width="0.9"/>
<text x="379.7" y="47.0" font-size="6.8" textLength="42.0" lengthAdjust="spacingAndGlyphs" fill="#000" style="stroke:#000;stroke-width:0.22px">RD_IL15_scFv</text>
<line x1="400" y1="110.1" x2="418.3" y2="110.1" stroke="#000" stroke-width="1.0"/>
<text x="409.15" y="110.19999999999999" font-size="6.6" text-anchor="middle" fill="#000" style="stroke:#000;stroke-width:0.22px">**</text>
<line x1="431.0" y1="87.8" x2="449.9" y2="87.8" stroke="#000" stroke-width="1.0"/>
<text x="440.45" y="87.89999999999999" font-size="6.6" text-anchor="middle" fill="#000" style="stroke:#000;stroke-width:0.22px">**</text>
<line x1="431.0" y1="93.5" x2="441.0" y2="93.5" stroke="#000" stroke-width="0.9"/>
<text x="437.6" y="93.3" font-size="3.7" text-anchor="middle" fill="#000" style="stroke:#000;stroke-width:0.08px">###</text>
<line x1="462.0" y1="76.3" x2="480.6" y2="76.3" stroke="#000" stroke-width="1.0"/>
<text x="471.3" y="76.39999999999999" font-size="6.6" text-anchor="middle" fill="#000" style="stroke:#000;stroke-width:0.22px">***</text>
<line x1="462.0" y1="78.4" x2="471.8" y2="78.4" stroke="#666" stroke-width="1.0"/>
<line x1="493.6" y1="70.9" x2="512.4" y2="70.9" stroke="#000" stroke-width="1.0"/>
<text x="503.0" y="71.0" font-size="6.6" text-anchor="middle" fill="#000" style="stroke:#000;stroke-width:0.22px">**</text>
<line x1="493.2" y1="77.2" x2="503.3" y2="77.2" stroke="#000" stroke-width="0.9"/>
<text x="499.8" y="77.0" font-size="3.7" text-anchor="middle" fill="#000" style="stroke:#000;stroke-width:0.08px">###</text>
<line x1="361.3" y1="191.0" x2="361.3" y2="295.6" stroke="#000" stroke-width="1.1"/>
<line x1="360.8" y1="295.1" x2="519.5" y2="295.1" stroke="#000" stroke-width="1.1"/>
<line x1="358.5" y1="295.1" x2="361.3" y2="295.1" stroke="#000" stroke-width="0.9"/>
<text x="358.7" y="297.3" font-size="6.3" text-anchor="end" fill="#000" style="stroke:#000;stroke-width:0.08px">0</text>
<line x1="359.6" y1="284.71000000000004" x2="361.3" y2="284.71000000000004" stroke="#000" stroke-width="0.8"/>
<line x1="358.5" y1="274.32000000000005" x2="361.3" y2="274.32000000000005" stroke="#000" stroke-width="0.9"/>
<text x="358.7" y="276.52000000000004" font-size="6.3" text-anchor="end" fill="#000" style="stroke:#000;stroke-width:0.08px">20</text>
<line x1="359.6" y1="263.93" x2="361.3" y2="263.93" stroke="#000" stroke-width="0.8"/>
<line x1="358.5" y1="253.54000000000002" x2="361.3" y2="253.54000000000002" stroke="#000" stroke-width="0.9"/>
<text x="358.7" y="255.74" font-size="6.3" text-anchor="end" fill="#000" style="stroke:#000;stroke-width:0.08px">40</text>
<line x1="359.6" y1="243.15000000000003" x2="361.3" y2="243.15000000000003" stroke="#000" stroke-width="0.8"/>
<line x1="358.5" y1="232.76000000000002" x2="361.3" y2="232.76000000000002" stroke="#000" stroke-width="0.9"/>
<text x="358.7" y="234.96" font-size="6.3" text-anchor="end" fill="#000" style="stroke:#000;stroke-width:0.08px">60</text>
<line x1="359.6" y1="222.37000000000003" x2="361.3" y2="222.37000000000003" stroke="#000" stroke-width="0.8"/>
<line x1="358.5" y1="211.98000000000002" x2="361.3" y2="211.98000000000002" stroke="#000" stroke-width="0.9"/>
<text x="358.7" y="214.18" font-size="6.3" text-anchor="end" fill="#000" style="stroke:#000;stroke-width:0.08px">80</text>
<line x1="359.6" y1="201.59000000000003" x2="361.3" y2="201.59000000000003" stroke="#000" stroke-width="0.8"/>
<line x1="358.5" y1="191.20000000000005" x2="361.3" y2="191.20000000000005" stroke="#000" stroke-width="0.9"/>
<text x="358.7" y="193.40000000000003" font-size="6.3" text-anchor="end" fill="#000" style="stroke:#000;stroke-width:0.08px">100</text>
<line x1="373.2" y1="295.1" x2="373.2" y2="297.4" stroke="#000" stroke-width="0.9"/>
<text x="373.2" y="303.9" font-size="6.3" text-anchor="middle" fill="#000" style="stroke:#000;stroke-width:0.08px">0</text>
<line x1="395.5" y1="295.1" x2="395.5" y2="297.4" stroke="#000" stroke-width="0.9"/>
<text x="395.5" y="303.9" font-size="6.3" text-anchor="middle" fill="#000" style="stroke:#000;stroke-width:0.08px">0</text>
<line x1="389.5" y1="272.03420000000006" x2="389.5" y2="266.3197" stroke="#000" stroke-width="0.8"/>
<line x1="388.2" y1="266.3197" x2="390.8" y2="266.3197" stroke="#000" stroke-width="0.8"/>
<rect x="387.55" y="272.48" width="3.90" height="22.62" fill="#fff" stroke="#000" stroke-width="0.9"/>
<line x1="395.5" y1="274.73560000000003" x2="395.5" y2="272.96930000000003" stroke="#000" stroke-width="0.8"/>
<line x1="394.2" y1="272.96930000000003" x2="396.8" y2="272.96930000000003" stroke="#000" stroke-width="0.8"/>
<rect x="393.55" y="275.19" width="3.90" height="19.91" fill="#a8a8a8" stroke="#000" stroke-width="0.9"/>
<line x1="401.5" y1="267.047" x2="401.5" y2="259.9818" stroke="#000" stroke-width="0.8"/>
<line x1="400.2" y1="259.9818" x2="402.8" y2="259.9818" stroke="#000" stroke-width="0.8"/>
<rect x="399.55" y="267.50" width="3.90" height="27.60" fill="#000" stroke="#000" stroke-width="0.9"/>
<line x1="417.8" y1="295.1" x2="417.8" y2="297.4" stroke="#000" stroke-width="0.9"/>
<text x="417.8" y="303.9" font-size="6.3" text-anchor="middle" fill="#000" style="stroke:#000;stroke-width:0.08px">3,3</text>
<line x1="411.8" y1="265.1768" x2="411.8" y2="262.47540000000004" stroke="#000" stroke-width="0.8"/>
<line x1="410.5" y1="262.47540000000004" x2="413.1" y2="262.47540000000004" stroke="#000" stroke-width="0.8"/>
<rect x="409.85" y="265.63" width="3.90" height="29.47" fill="#fff" stroke="#000" stroke-width="0.9"/>
<line x1="417.8" y1="261.95590000000004" x2="417.8" y2="254.47510000000003" stroke="#000" stroke-width="0.8"/>
<line x1="416.5" y1="254.47510000000003" x2="419.1" y2="254.47510000000003" stroke="#000" stroke-width="0.8"/>
<rect x="415.85" y="262.41" width="3.90" height="32.69" fill="#a8a8a8" stroke="#000" stroke-width="0.9"/>
<line x1="423.8" y1="250.21520000000004" x2="423.8" y2="245.12410000000003" stroke="#000" stroke-width="0.8"/>
<line x1="422.5" y1="245.12410000000003" x2="425.1" y2="245.12410000000003" stroke="#000" stroke-width="0.8"/>
<rect x="421.85" y="250.67" width="3.90" height="44.43" fill="#000" stroke="#000" stroke-width="0.9"/>
<line x1="440.1" y1="295.1" x2="440.1" y2="297.4" stroke="#000" stroke-width="0.9"/>
<text x="440.1" y="303.9" font-size="6.3" text-anchor="middle" fill="#000" style="stroke:#000;stroke-width:0.08px">10</text>
<line x1="434.1" y1="263.61830000000003" x2="434.1" y2="256.65700000000004" stroke="#000" stroke-width="0.8"/>
<line x1="432.8" y1="256.65700000000004" x2="435.40000000000003" y2="256.65700000000004" stroke="#000" stroke-width="0.8"/>
<rect x="432.15" y="264.07" width="3.90" height="31.03" fill="#fff" stroke="#000" stroke-width="0.9"/>
<line x1="440.1" y1="258.42330000000004" x2="440.1" y2="256.03360000000004" stroke="#000" stroke-width="0.8"/>
<line x1="438.8" y1="256.03360000000004" x2="441.40000000000003" y2="256.03360000000004" stroke="#000" stroke-width="0.8"/>
<rect x="438.15" y="258.87" width="3.90" height="36.23" fill="#a8a8a8" stroke="#000" stroke-width="0.9"/>
<line x1="446.1" y1="240.44860000000003" x2="446.1" y2="234.00680000000003" stroke="#000" stroke-width="0.8"/>
<line x1="444.8" y1="234.00680000000003" x2="447.40000000000003" y2="234.00680000000003" stroke="#000" stroke-width="0.8"/>
<rect x="444.15" y="240.90" width="3.90" height="54.20" fill="#000" stroke="#000" stroke-width="0.9"/>
<line x1="462.4" y1="295.1" x2="462.4" y2="297.4" stroke="#000" stroke-width="0.9"/>
<text x="462.4" y="303.9" font-size="6.3" text-anchor="middle" fill="#000" style="stroke:#000;stroke-width:0.08px">30</text>
<line x1="456.4" y1="253.02050000000003" x2="456.4" y2="248.96840000000003" stroke="#000" stroke-width="0.8"/>
<line x1="455.09999999999997" y1="248.96840000000003" x2="457.7" y2="248.96840000000003" stroke="#000" stroke-width="0.8"/>
<rect x="454.45" y="253.47" width="3.90" height="41.63" fill="#fff" stroke="#000" stroke-width="0.9"/>
<line x1="462.4" y1="243.15000000000003" x2="462.4" y2="235.25360000000003" stroke="#000" stroke-width="0.8"/>
<line x1="461.09999999999997" y1="235.25360000000003" x2="463.7" y2="235.25360000000003" stroke="#000" stroke-width="0.8"/>
<rect x="460.45" y="243.60" width="3.90" height="51.50" fill="#a8a8a8" stroke="#000" stroke-width="0.9"/>
<line x1="468.4" y1="224.13630000000003" x2="468.4" y2="218.42180000000002" stroke="#000" stroke-width="0.8"/>
<line x1="467.09999999999997" y1="218.42180000000002" x2="469.7" y2="218.42180000000002" stroke="#000" stroke-width="0.8"/>
<rect x="466.45" y="224.59" width="3.90" height="70.51" fill="#000" stroke="#000" stroke-width="0.9"/>
<line x1="484.7" y1="295.1" x2="484.7" y2="297.4" stroke="#000" stroke-width="0.9"/>
<text x="484.7" y="303.9" font-size="6.3" text-anchor="middle" fill="#000" style="stroke:#000;stroke-width:0.08px">90</text>
<line x1="478.7" y1="240.44860000000003" x2="478.7" y2="230.47420000000002" stroke="#000" stroke-width="0.8"/>
<line x1="477.4" y1="230.47420000000002" x2="480.0" y2="230.47420000000002" stroke="#000" stroke-width="0.8"/>
<rect x="476.75" y="240.90" width="3.90" height="54.20" fill="#fff" stroke="#000" stroke-width="0.9"/>
<line x1="484.7" y1="224.65580000000003" x2="484.7" y2="218.8374" stroke="#000" stroke-width="0.8"/>
<line x1="483.4" y1="218.8374" x2="486.0" y2="218.8374" stroke="#000" stroke-width="0.8"/>
<rect x="482.75" y="225.11" width="3.90" height="69.99" fill="#a8a8a8" stroke="#000" stroke-width="0.9"/>
<line x1="490.7" y1="206.0577" x2="490.7" y2="203.56410000000005" stroke="#000" stroke-width="0.8"/>
<line x1="489.4" y1="203.56410000000005" x2="492.0" y2="203.56410000000005" stroke="#000" stroke-width="0.8"/>
<rect x="488.75" y="206.51" width="3.90" height="88.59" fill="#000" stroke="#000" stroke-width="0.9"/>
<line x1="507.0" y1="295.1" x2="507.0" y2="297.4" stroke="#000" stroke-width="0.9"/>
<text x="507.0" y="303.9" font-size="6.3" text-anchor="middle" fill="#000" style="stroke:#000;stroke-width:0.08px">90</text>
<rect x="499.05" y="293.99" width="3.90" height="1.11" fill="#fff" stroke="#000" stroke-width="0.9"/>
<rect x="511.05" y="293.99" width="3.90" height="1.11" fill="#000" stroke="#000" stroke-width="0.9"/>
<text x="399.2" y="314.4" font-size="7.2" textLength="80.3" lengthAdjust="spacingAndGlyphs" fill="#000" style="stroke:#000;stroke-width:0.22px">Fusion protein [nmol/L]</text>
<line x1="386.7" y1="318.2" x2="494.1" y2="318.2" stroke="#000" stroke-width="1.2"/>
<text x="402.6" y="328.2" font-size="7.2" textLength="76.0" lengthAdjust="spacingAndGlyphs" fill="#000" style="stroke:#000;stroke-width:0.22px">α-CD3 mAb [5 ng/mL]</text>
<text x="336.0" y="242.2" font-size="7.0" text-anchor="middle" transform="rotate(-90 336.0 242.2)" fill="#000" style="stroke:#000;stroke-width:0.22px">T cells</text>
<text x="344.1" y="242.6" font-size="7.0" text-anchor="middle" textLength="56.5" lengthAdjust="spacingAndGlyphs" transform="rotate(-90 344.1 242.6)" fill="#000" style="stroke:#000;stroke-width:0.22px">proliferation [%]</text>
<rect x="365.90" y="193.60" width="11.20" height="4.10" fill="#000" stroke="#000" stroke-width="0.9"/>
<text x="378.6" y="198.0" font-size="6.8" textLength="71.6" lengthAdjust="spacingAndGlyphs" fill="#000" style="stroke:#000;stroke-width:0.22px">RD_IL15_scFv_scGITRL</text>
<rect x="365.90" y="202.80" width="11.20" height="4.00" fill="#a0a0a0" stroke="#000" stroke-width="0.9"/>
<text x="378.6" y="207.1" font-size="6.8" textLength="72.2" lengthAdjust="spacingAndGlyphs" fill="#000" style="stroke:#000;stroke-width:0.22px">RD_IL15_scFv_scOX40L</text>
<rect x="365.90" y="211.10" width="11.20" height="3.80" fill="#fff" stroke="#000" stroke-width="0.9"/>
<text x="378.6" y="215.2" font-size="6.8" textLength="42.3" lengthAdjust="spacingAndGlyphs" fill="#000" style="stroke:#000;stroke-width:0.22px">RD_IL15_scFv</text>
<line x1="410.7" y1="243.9" x2="423.4" y2="243.9" stroke="#000" stroke-width="1.0"/>
<text x="417.04999999999995" y="244.0" font-size="6.6" text-anchor="middle" fill="#000" style="stroke:#000;stroke-width:0.22px">***</text>
<line x1="433.0" y1="230.5" x2="445.7" y2="230.5" stroke="#000" stroke-width="1.0"/>
<text x="439.35" y="230.6" font-size="6.6" text-anchor="middle" fill="#000" style="stroke:#000;stroke-width:0.22px">***</text>
<line x1="454.6" y1="215.0" x2="468.3" y2="215.0" stroke="#000" stroke-width="1.0"/>
<text x="461.45000000000005" y="215.1" font-size="6.6" text-anchor="middle" fill="#000" style="stroke:#000;stroke-width:0.22px">***</text>
<line x1="454.6" y1="232.6" x2="463.0" y2="232.6" stroke="#000" stroke-width="1.0"/>
<text x="458.8" y="232.7" font-size="6.6" text-anchor="middle" fill="#000" style="stroke:#000;stroke-width:0.22px">*</text>
<line x1="477.9" y1="200.9" x2="492.2" y2="200.9" stroke="#000" stroke-width="1.0"/>
<text x="485.04999999999995" y="201.0" font-size="6.6" text-anchor="middle" fill="#000" style="stroke:#000;stroke-width:0.22px">***</text>
<line x1="477.4" y1="216.7" x2="485.3" y2="216.7" stroke="#000" stroke-width="1.0"/>
<text x="481.35" y="216.79999999999998" font-size="6.6" text-anchor="middle" fill="#000" style="stroke:#000;stroke-width:0.22px">*</text>
</svg></body></html>
